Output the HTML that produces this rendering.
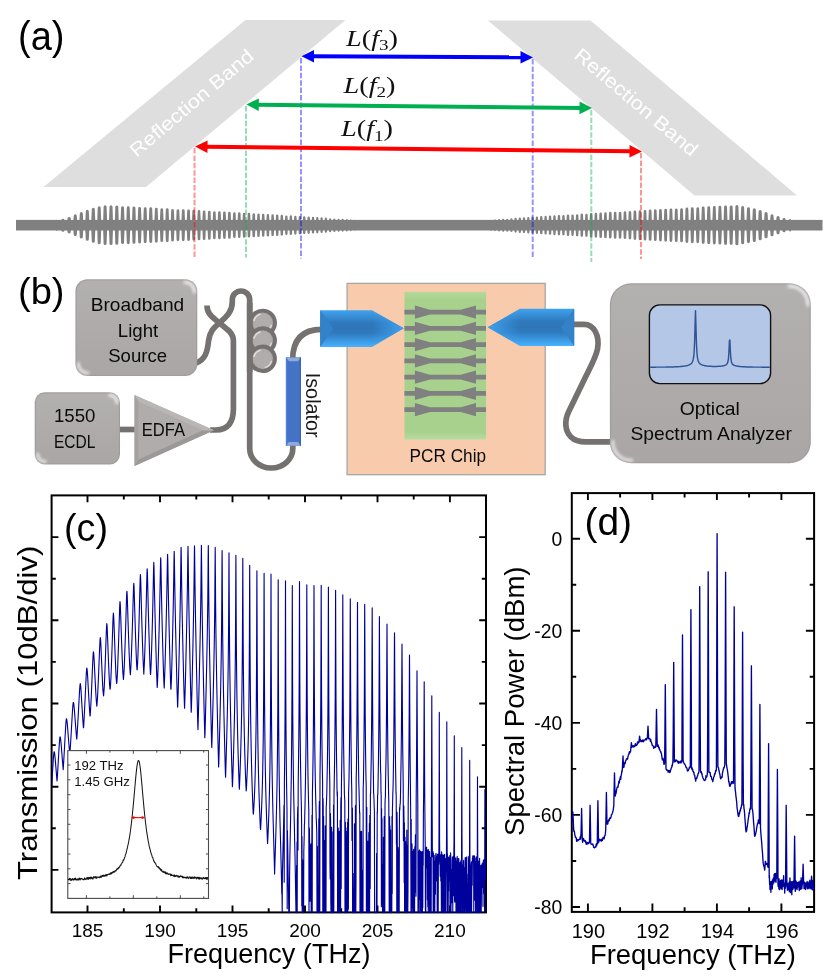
<!DOCTYPE html>
<html lang="en"><head><meta charset="utf-8"><title>Figure</title>
<style>
html,body{margin:0;padding:0;background:#fff;}
body{width:830px;height:977px;overflow:hidden;}
svg{display:block;font-family:"Liberation Sans","DejaVu Sans",sans-serif;}
</style></head><body>
<svg width="830" height="977" viewBox="0 0 830 977">
<rect width="830" height="977" fill="#ffffff"/>
<g id="panelA">
<polygon points="245.5,20 345.5,20 146,187 43.5,187" fill="#dedede"/>
<polygon points="488,20.5 590.5,20.5 797,195.5 694.5,195.5" fill="#dedede"/>
<text transform="translate(195.7,108) rotate(-40.1)" x="0" y="0" text-anchor="middle" font-size="19.2" fill="#ffffff" textLength="155" lengthAdjust="spacingAndGlyphs">Reflection Band</text>
<text transform="translate(632,107.1) rotate(40.3)" x="0" y="0" text-anchor="middle" font-size="19.2" fill="#ffffff" textLength="155" lengthAdjust="spacingAndGlyphs">Reflection Band</text>
<rect x="16" y="219.9" width="806.5" height="10.6" fill="#808080"/>
<path d="M54.5 225.2L56.3 219.9A0.4 0.4 0 0 1 57.2 219.9L59 225.2L57.2 230.5A0.4 0.4 0 0 1 56.3 230.5ZM60.7 225.2L61.4 219.9A1.6 1.6 0 0 1 64.5 219.9L65.2 225.2L64.5 230.5A1.6 1.6 0 0 1 61.4 230.5ZM66.9 225.2L67.6 218.1A1.6 1.6 0 0 1 70.7 218.1L71.4 225.2L70.7 232.3A1.6 1.6 0 0 1 67.6 232.3ZM73 225.2L73.7 215.9A1.5 1.5 0 0 1 76.8 215.9L77.5 225.2L76.8 234.5A1.5 1.5 0 0 1 73.7 234.5ZM79.1 225.2L79.8 213.5A1.5 1.5 0 0 1 82.8 213.5L83.5 225.2L82.8 236.9A1.5 1.5 0 0 1 79.8 236.9ZM85.1 225.2L85.8 211.2A1.5 1.5 0 0 1 88.8 211.2L89.5 225.2L88.8 239.2A1.5 1.5 0 0 1 85.8 239.2ZM91.1 225.2L91.8 209.2A1.5 1.5 0 0 1 94.8 209.2L95.5 225.2L94.8 241.2A1.5 1.5 0 0 1 91.8 241.2ZM97.1 225.2L97.7 207.7A1.5 1.5 0 0 1 100.7 207.7L101.4 225.2L100.7 242.7A1.5 1.5 0 0 1 97.7 242.7ZM103 225.2L103.6 206.8A1.5 1.5 0 0 1 106.6 206.8L107.3 225.2L106.6 243.6A1.5 1.5 0 0 1 103.6 243.6ZM108.8 225.2L109.5 206.8A1.5 1.5 0 0 1 112.5 206.8L113.1 225.2L112.5 243.6A1.5 1.5 0 0 1 109.5 243.6ZM114.7 225.2L115.3 207.1A1.5 1.5 0 0 1 118.3 207.1L118.9 225.2L118.3 243.3A1.5 1.5 0 0 1 115.3 243.3ZM120.4 225.2L121.1 207.4A1.5 1.5 0 0 1 124 207.4L124.7 225.2L124 243A1.5 1.5 0 0 1 121.1 243ZM126.2 225.2L126.8 207.7A1.4 1.4 0 0 1 129.7 207.7L130.4 225.2L129.7 242.7A1.4 1.4 0 0 1 126.8 242.7ZM131.9 225.2L132.5 208A1.4 1.4 0 0 1 135.4 208L136 225.2L135.4 242.4A1.4 1.4 0 0 1 132.5 242.4ZM137.5 225.2L138.2 208.3A1.4 1.4 0 0 1 141 208.3L141.7 225.2L141 242.1A1.4 1.4 0 0 1 138.2 242.1ZM143.1 225.2L143.8 208.6A1.4 1.4 0 0 1 146.6 208.6L147.3 225.2L146.6 241.8A1.4 1.4 0 0 1 143.8 241.8ZM148.7 225.2L149.3 208.8A1.4 1.4 0 0 1 152.2 208.8L152.8 225.2L152.2 241.6A1.4 1.4 0 0 1 149.3 241.6ZM154.2 225.2L154.9 209.1A1.4 1.4 0 0 1 157.7 209.1L158.3 225.2L157.7 241.3A1.4 1.4 0 0 1 154.9 241.3ZM159.7 225.2L160.4 209.4A1.4 1.4 0 0 1 163.1 209.4L163.8 225.2L163.1 241A1.4 1.4 0 0 1 160.4 241ZM165.2 225.2L165.8 209.7A1.4 1.4 0 0 1 168.6 209.7L169.2 225.2L168.6 240.7A1.4 1.4 0 0 1 165.8 240.7ZM170.6 225.2L171.2 210A1.4 1.4 0 0 1 173.9 210L174.6 225.2L173.9 240.4A1.4 1.4 0 0 1 171.2 240.4ZM176 225.2L176.6 210.3A1.4 1.4 0 0 1 179.3 210.3L179.9 225.2L179.3 240.1A1.4 1.4 0 0 1 176.6 240.1ZM181.3 225.2L181.9 210.6A1.3 1.3 0 0 1 184.6 210.6L185.2 225.2L184.6 239.8A1.3 1.3 0 0 1 181.9 239.8ZM186.6 225.2L187.2 210.8A1.3 1.3 0 0 1 189.9 210.8L190.5 225.2L189.9 239.6A1.3 1.3 0 0 1 187.2 239.6ZM191.8 225.2L192.4 211.1A1.3 1.3 0 0 1 195.1 211.1L195.7 225.2L195.1 239.3A1.3 1.3 0 0 1 192.4 239.3ZM197.1 225.2L197.7 211.4A1.3 1.3 0 0 1 200.3 211.4L200.9 225.2L200.3 239A1.3 1.3 0 0 1 197.7 239ZM202.2 225.2L202.8 211.7A1.3 1.3 0 0 1 205.4 211.7L206 225.2L205.4 238.7A1.3 1.3 0 0 1 202.8 238.7ZM207.4 225.2L208 212A1.3 1.3 0 0 1 210.6 212L211.1 225.2L210.6 238.4A1.3 1.3 0 0 1 208 238.4ZM212.5 225.2L213.1 212.2A1.3 1.3 0 0 1 215.6 212.2L216.2 225.2L215.6 238.2A1.3 1.3 0 0 1 213.1 238.2ZM217.5 225.2L218.1 212.5A1.3 1.3 0 0 1 220.7 212.5L221.3 225.2L220.7 237.9A1.3 1.3 0 0 1 218.1 237.9ZM222.6 225.2L223.1 212.8A1.3 1.3 0 0 1 225.7 212.8L226.3 225.2L225.7 237.6A1.3 1.3 0 0 1 223.1 237.6ZM227.6 225.2L228.1 213A1.3 1.3 0 0 1 230.7 213L231.2 225.2L230.7 237.4A1.3 1.3 0 0 1 228.1 237.4ZM232.5 225.2L233.1 213.3A1.3 1.3 0 0 1 235.6 213.3L236.1 225.2L235.6 237.1A1.3 1.3 0 0 1 233.1 237.1ZM237.4 225.2L238 213.6A1.2 1.2 0 0 1 240.5 213.6L241 225.2L240.5 236.8A1.2 1.2 0 0 1 238 236.8ZM242.3 225.2L242.9 213.9A1.2 1.2 0 0 1 245.3 213.9L245.9 225.2L245.3 236.5A1.2 1.2 0 0 1 242.9 236.5ZM247.2 225.2L247.7 214.1A1.2 1.2 0 0 1 250.2 214.1L250.7 225.2L250.2 236.3A1.2 1.2 0 0 1 247.7 236.3ZM252 225.2L252.5 214.4A1.2 1.2 0 0 1 255 214.4L255.5 225.2L255 236A1.2 1.2 0 0 1 252.5 236ZM256.8 225.2L257.3 214.7A1.2 1.2 0 0 1 259.7 214.7L260.3 225.2L259.7 235.7A1.2 1.2 0 0 1 257.3 235.7ZM261.5 225.2L262 214.9A1.2 1.2 0 0 1 264.4 214.9L265 225.2L264.4 235.5A1.2 1.2 0 0 1 262 235.5ZM266.2 225.2L266.7 215.2A1.2 1.2 0 0 1 269.1 215.2L269.6 225.2L269.1 235.2A1.2 1.2 0 0 1 266.7 235.2ZM270.9 225.2L271.4 215.5A1.2 1.2 0 0 1 273.8 215.5L274.3 225.2L273.8 234.9A1.2 1.2 0 0 1 271.4 234.9ZM275.5 225.2L276 215.7A1.2 1.2 0 0 1 278.4 215.7L278.9 225.2L278.4 234.7A1.2 1.2 0 0 1 276 234.7ZM280.1 225.2L280.6 216A1.2 1.2 0 0 1 283 216L283.5 225.2L283 234.4A1.2 1.2 0 0 1 280.6 234.4ZM284.7 225.2L285.2 216.3A1.2 1.2 0 0 1 287.5 216.3L288 225.2L287.5 234.1A1.2 1.2 0 0 1 285.2 234.1ZM289.2 225.2L289.7 216.5A1.1 1.1 0 0 1 292 216.5L292.5 225.2L292 233.9A1.1 1.1 0 0 1 289.7 233.9ZM293.7 225.2L294.2 216.8A1.1 1.1 0 0 1 296.5 216.8L297 225.2L296.5 233.6A1.1 1.1 0 0 1 294.2 233.6ZM298.2 225.2L298.7 217.1A1.1 1.1 0 0 1 301 217.1L301.5 225.2L301 233.3A1.1 1.1 0 0 1 298.7 233.3ZM302.6 225.2L303.1 217.3A1.1 1.1 0 0 1 305.4 217.3L305.9 225.2L305.4 233.1A1.1 1.1 0 0 1 303.1 233.1ZM307 225.2L307.5 217.6A1.1 1.1 0 0 1 309.8 217.6L310.3 225.2L309.8 232.8A1.1 1.1 0 0 1 307.5 232.8ZM311.4 225.2L311.9 217.9A1.1 1.1 0 0 1 314.1 217.9L314.6 225.2L314.1 232.5A1.1 1.1 0 0 1 311.9 232.5ZM315.7 225.2L316.2 218.1A1.1 1.1 0 0 1 318.4 218.1L318.9 225.2L318.4 232.3A1.1 1.1 0 0 1 316.2 232.3ZM320.1 225.2L320.5 218.4A1.1 1.1 0 0 1 322.7 218.4L323.2 225.2L322.7 232A1.1 1.1 0 0 1 320.5 232ZM324.3 225.2L324.8 218.7A1.1 1.1 0 0 1 327 218.7L327.5 225.2L327 231.7A1.1 1.1 0 0 1 324.8 231.7ZM328.6 225.2L329.1 218.9A1.1 1.1 0 0 1 331.2 218.9L331.7 225.2L331.2 231.5A1.1 1.1 0 0 1 329.1 231.5ZM332.8 225.2L333.3 219.2A1.1 1.1 0 0 1 335.4 219.2L335.9 225.2L335.4 231.2A1.1 1.1 0 0 1 333.3 231.2ZM337 225.2L337.5 219.5A1.1 1.1 0 0 1 339.6 219.5L340 225.2L339.6 230.9A1.1 1.1 0 0 1 337.5 230.9ZM341.1 225.2L341.6 219.8A1 1 0 0 1 343.7 219.8L344.2 225.2L343.7 230.6A1 1 0 0 1 341.6 230.6ZM345.3 225.2L345.9 219.9A0.9 0.9 0 0 1 347.7 219.9L348.3 225.2L347.7 230.5A0.9 0.9 0 0 1 345.9 230.5ZM349.4 225.2L350.2 219.9A0.6 0.6 0 0 1 351.5 219.9L352.4 225.2L351.5 230.5A0.6 0.6 0 0 1 350.2 230.5ZM353.4 225.2L354.6 219.9A0.3 0.3 0 0 1 355.2 219.9L356.4 225.2L355.2 230.5A0.3 0.3 0 0 1 354.6 230.5Z" fill="#808080"/>
<path d="M489.5 225.2L490.6 219.9A0.4 0.4 0 0 1 491.4 219.9L492.5 225.2L491.4 230.5A0.4 0.4 0 0 1 490.6 230.5ZM493.5 225.2L494.3 219.9A0.7 0.7 0 0 1 495.7 219.9L496.5 225.2L495.7 230.5A0.7 0.7 0 0 1 494.3 230.5ZM497.6 225.2L498.1 219.9A1 1 0 0 1 500.1 219.9L500.6 225.2L500.1 230.5A1 1 0 0 1 498.1 230.5ZM501.6 225.2L502.1 219.7A1 1 0 0 1 504.2 219.7L504.7 225.2L504.2 230.7A1 1 0 0 1 502.1 230.7ZM505.7 225.2L506.2 219.4A1.1 1.1 0 0 1 508.3 219.4L508.8 225.2L508.3 231A1.1 1.1 0 0 1 506.2 231ZM509.9 225.2L510.4 219.1A1.1 1.1 0 0 1 512.5 219.1L513 225.2L512.5 231.3A1.1 1.1 0 0 1 510.4 231.3ZM514 225.2L514.5 218.8A1.1 1.1 0 0 1 516.7 218.8L517.1 225.2L516.7 231.6A1.1 1.1 0 0 1 514.5 231.6ZM518.2 225.2L518.7 218.5A1.1 1.1 0 0 1 520.9 218.5L521.4 225.2L520.9 231.9A1.1 1.1 0 0 1 518.7 231.9ZM522.4 225.2L522.9 218.3A1.1 1.1 0 0 1 525.1 218.3L525.6 225.2L525.1 232.1A1.1 1.1 0 0 1 522.9 232.1ZM526.7 225.2L527.2 218A1.1 1.1 0 0 1 529.4 218L529.9 225.2L529.4 232.4A1.1 1.1 0 0 1 527.2 232.4ZM531 225.2L531.5 217.7A1.1 1.1 0 0 1 533.7 217.7L534.2 225.2L533.7 232.7A1.1 1.1 0 0 1 531.5 232.7ZM535.3 225.2L535.8 217.5A1.1 1.1 0 0 1 538 217.5L538.5 225.2L538 232.9A1.1 1.1 0 0 1 535.8 232.9ZM539.6 225.2L540.1 217.2A1.1 1.1 0 0 1 542.4 217.2L542.9 225.2L542.4 233.2A1.1 1.1 0 0 1 540.1 233.2ZM544 225.2L544.5 216.9A1.1 1.1 0 0 1 546.7 216.9L547.3 225.2L546.7 233.5A1.1 1.1 0 0 1 544.5 233.5ZM548.4 225.2L548.9 216.7A1.1 1.1 0 0 1 551.2 216.7L551.7 225.2L551.2 233.7A1.1 1.1 0 0 1 548.9 233.7ZM552.8 225.2L553.3 216.4A1.1 1.1 0 0 1 555.6 216.4L556.1 225.2L555.6 234A1.1 1.1 0 0 1 553.3 234ZM557.3 225.2L557.8 216.1A1.1 1.1 0 0 1 560.1 216.1L560.6 225.2L560.1 234.3A1.1 1.1 0 0 1 557.8 234.3ZM561.8 225.2L562.3 215.9A1.2 1.2 0 0 1 564.6 215.9L565.1 225.2L564.6 234.5A1.2 1.2 0 0 1 562.3 234.5ZM566.3 225.2L566.8 215.6A1.2 1.2 0 0 1 569.2 215.6L569.7 225.2L569.2 234.8A1.2 1.2 0 0 1 566.8 234.8ZM570.9 225.2L571.4 215.3A1.2 1.2 0 0 1 573.7 215.3L574.3 225.2L573.7 235.1A1.2 1.2 0 0 1 571.4 235.1ZM575.4 225.2L576 215A1.2 1.2 0 0 1 578.3 215L578.9 225.2L578.3 235.4A1.2 1.2 0 0 1 576 235.4ZM580.1 225.2L580.6 214.8A1.2 1.2 0 0 1 583 214.8L583.5 225.2L583 235.6A1.2 1.2 0 0 1 580.6 235.6ZM584.7 225.2L585.3 214.5A1.2 1.2 0 0 1 587.6 214.5L588.2 225.2L587.6 235.9A1.2 1.2 0 0 1 585.3 235.9ZM589.4 225.2L589.9 214.2A1.2 1.2 0 0 1 592.4 214.2L592.9 225.2L592.4 236.2A1.2 1.2 0 0 1 589.9 236.2ZM594.1 225.2L594.7 214A1.2 1.2 0 0 1 597.1 214L597.6 225.2L597.1 236.4A1.2 1.2 0 0 1 594.7 236.4ZM598.9 225.2L599.4 213.7A1.2 1.2 0 0 1 601.9 213.7L602.4 225.2L601.9 236.7A1.2 1.2 0 0 1 599.4 236.7ZM603.6 225.2L604.2 213.4A1.2 1.2 0 0 1 606.7 213.4L607.2 225.2L606.7 237A1.2 1.2 0 0 1 604.2 237ZM608.5 225.2L609 213.1A1.2 1.2 0 0 1 611.5 213.1L612.1 225.2L611.5 237.3A1.2 1.2 0 0 1 609 237.3ZM613.3 225.2L613.9 212.9A1.2 1.2 0 0 1 616.4 212.9L616.9 225.2L616.4 237.5A1.2 1.2 0 0 1 613.9 237.5ZM618.2 225.2L618.8 212.6A1.3 1.3 0 0 1 621.3 212.6L621.9 225.2L621.3 237.8A1.3 1.3 0 0 1 618.8 237.8ZM623.1 225.2L623.7 212.3A1.3 1.3 0 0 1 626.2 212.3L626.8 225.2L626.2 238.1A1.3 1.3 0 0 1 623.7 238.1ZM628.1 225.2L628.7 212A1.3 1.3 0 0 1 631.2 212L631.8 225.2L631.2 238.4A1.3 1.3 0 0 1 628.7 238.4ZM633.1 225.2L633.6 211.8A1.3 1.3 0 0 1 636.2 211.8L636.8 225.2L636.2 238.6A1.3 1.3 0 0 1 633.6 238.6ZM638.1 225.2L638.7 211.5A1.3 1.3 0 0 1 641.3 211.5L641.8 225.2L641.3 238.9A1.3 1.3 0 0 1 638.7 238.9ZM643.1 225.2L643.7 211.2A1.3 1.3 0 0 1 646.3 211.2L646.9 225.2L646.3 239.2A1.3 1.3 0 0 1 643.7 239.2ZM648.2 225.2L648.8 210.9A1.3 1.3 0 0 1 651.5 210.9L652 225.2L651.5 239.5A1.3 1.3 0 0 1 648.8 239.5ZM653.4 225.2L654 210.6A1.3 1.3 0 0 1 656.6 210.6L657.2 225.2L656.6 239.8A1.3 1.3 0 0 1 654 239.8ZM658.5 225.2L659.1 210.3A1.3 1.3 0 0 1 661.8 210.3L662.4 225.2L661.8 240.1A1.3 1.3 0 0 1 659.1 240.1ZM663.7 225.2L664.3 210.1A1.3 1.3 0 0 1 667 210.1L667.6 225.2L667 240.3A1.3 1.3 0 0 1 664.3 240.3ZM669 225.2L669.6 209.8A1.3 1.3 0 0 1 672.3 209.8L672.9 225.2L672.3 240.6A1.3 1.3 0 0 1 669.6 240.6ZM674.3 225.2L674.9 209.5A1.4 1.4 0 0 1 677.6 209.5L678.2 225.2L677.6 240.9A1.4 1.4 0 0 1 674.9 240.9ZM679.6 225.2L680.2 209.2A1.4 1.4 0 0 1 682.9 209.2L683.5 225.2L682.9 241.2A1.4 1.4 0 0 1 680.2 241.2ZM684.9 225.2L685.5 208.9A1.4 1.4 0 0 1 688.3 208.9L688.9 225.2L688.3 241.5A1.4 1.4 0 0 1 685.5 241.5ZM690.3 225.2L690.9 208.6A1.4 1.4 0 0 1 693.7 208.6L694.3 225.2L693.7 241.8A1.4 1.4 0 0 1 690.9 241.8ZM695.7 225.2L696.4 208.3A1.4 1.4 0 0 1 699.1 208.3L699.8 225.2L699.1 242.1A1.4 1.4 0 0 1 696.4 242.1ZM701.2 225.2L701.8 208A1.4 1.4 0 0 1 704.6 208L705.3 225.2L704.6 242.4A1.4 1.4 0 0 1 701.8 242.4ZM706.7 225.2L707.3 207.7A1.4 1.4 0 0 1 710.2 207.7L710.8 225.2L710.2 242.7A1.4 1.4 0 0 1 707.3 242.7ZM712.2 225.2L712.9 207.4A1.4 1.4 0 0 1 715.7 207.4L716.4 225.2L715.7 243A1.4 1.4 0 0 1 712.9 243ZM717.8 225.2L718.5 207.2A1.4 1.4 0 0 1 721.3 207.2L722 225.2L721.3 243.2A1.4 1.4 0 0 1 718.5 243.2ZM723.4 225.2L724.1 206.9A1.4 1.4 0 0 1 727 206.9L727.6 225.2L727 243.5A1.4 1.4 0 0 1 724.1 243.5ZM729.1 225.2L729.7 206.6A1.5 1.5 0 0 1 732.6 206.6L733.3 225.2L732.6 243.8A1.5 1.5 0 0 1 729.7 243.8ZM734.8 225.2L735.4 206.6A1.5 1.5 0 0 1 738.4 206.6L739 225.2L738.4 243.8A1.5 1.5 0 0 1 735.4 243.8ZM740.5 225.2L741.2 207.2A1.5 1.5 0 0 1 744.1 207.2L744.8 225.2L744.1 243.2A1.5 1.5 0 0 1 741.2 243.2ZM746.3 225.2L747 208.3A1.5 1.5 0 0 1 749.9 208.3L750.6 225.2L749.9 242.1A1.5 1.5 0 0 1 747 242.1ZM752.1 225.2L752.8 209.8A1.5 1.5 0 0 1 755.8 209.8L756.4 225.2L755.8 240.6A1.5 1.5 0 0 1 752.8 240.6ZM758 225.2L758.6 211.6A1.5 1.5 0 0 1 761.7 211.6L762.3 225.2L761.7 238.8A1.5 1.5 0 0 1 758.6 238.8ZM763.9 225.2L764.5 213.6A1.5 1.5 0 0 1 767.6 213.6L768.3 225.2L767.6 236.8A1.5 1.5 0 0 1 764.5 236.8ZM769.8 225.2L770.5 215.7A1.5 1.5 0 0 1 773.5 215.7L774.2 225.2L773.5 234.7A1.5 1.5 0 0 1 770.5 234.7ZM775.8 225.2L776.5 217.6A1.5 1.5 0 0 1 779.6 217.6L780.2 225.2L779.6 232.8A1.5 1.5 0 0 1 776.5 232.8ZM781.8 225.2L782.5 219.3A1.6 1.6 0 0 1 785.6 219.3L786.3 225.2L785.6 231.1A1.6 1.6 0 0 1 782.5 231.1ZM787.9 225.2L789.2 219.9A0.9 0.9 0 0 1 791.1 219.9L792.4 225.2L791.1 230.5A0.9 0.9 0 0 1 789.2 230.5Z" fill="#808080"/>
<path d="M194.5 148V257.5" stroke="#ff0000" stroke-width="2" stroke-dasharray="5.5 1.9" fill="none" stroke-opacity="0.42"/>
<path d="M246 106V257.5" stroke="#00b050" stroke-width="2" stroke-dasharray="5.5 1.9" fill="none" stroke-opacity="0.42"/>
<path d="M301 58V258.5" stroke="#0000ff" stroke-width="2" stroke-dasharray="5.5 1.9" fill="none" stroke-opacity="0.42"/>
<path d="M532.7 59V258.5" stroke="#0000ff" stroke-width="2" stroke-dasharray="5.5 1.9" fill="none" stroke-opacity="0.42"/>
<path d="M591.3 110V262" stroke="#00b050" stroke-width="2" stroke-dasharray="5.5 1.9" fill="none" stroke-opacity="0.42"/>
<path d="M641 153V259" stroke="#ff0000" stroke-width="2" stroke-dasharray="5.5 1.9" fill="none" stroke-opacity="0.42"/>
<path d="M311.5 56.3L523 57.3" stroke="#0000ff" stroke-width="4" fill="none"/><polygon points="301.5,56.2 314,62.6 314,50" fill="#0000ff"/><polygon points="533,57.4 520.5,63.6 520.5,51" fill="#0000ff"/>
<path d="M256.3 104.7L582 107.9" stroke="#00b050" stroke-width="4" fill="none"/><polygon points="246.3,104.6 258.7,111 258.9,98.4" fill="#00b050"/><polygon points="592,108 579.4,114.2 579.6,101.6" fill="#00b050"/>
<path d="M205 146.7L632 151.3" stroke="#ff0000" stroke-width="4" fill="none"/><polygon points="195,146.6 207.4,153 207.6,140.4" fill="#ff0000"/><polygon points="642,151.4 629.4,157.6 629.6,145" fill="#ff0000"/>
<text x="346" y="45.5" font-family="'Liberation Serif','DejaVu Serif',serif" font-size="23" fill="#111" textLength="52" lengthAdjust="spacingAndGlyphs"><tspan font-style="italic">L</tspan>(<tspan font-style="italic">f</tspan><tspan font-size="15.5" dy="4.5">3</tspan><tspan dy="-4.5">)</tspan></text>
<text x="343.5" y="92.5" font-family="'Liberation Serif','DejaVu Serif',serif" font-size="23" fill="#111" textLength="52" lengthAdjust="spacingAndGlyphs"><tspan font-style="italic">L</tspan>(<tspan font-style="italic">f</tspan><tspan font-size="15.5" dy="4.5">2</tspan><tspan dy="-4.5">)</tspan></text>
<text x="341" y="136.2" font-family="'Liberation Serif','DejaVu Serif',serif" font-size="23" fill="#111" textLength="52" lengthAdjust="spacingAndGlyphs"><tspan font-style="italic">L</tspan>(<tspan font-style="italic">f</tspan><tspan font-size="15.5" dy="4.5">1</tspan><tspan dy="-4.5">)</tspan></text>
<text x="18" y="50" font-size="40" fill="#000" textLength="46.5" lengthAdjust="spacingAndGlyphs">(a)</text>
</g>
<g id="panelB">
<defs>
<linearGradient id="gbox" x1="0" y1="0" x2="0" y2="1"><stop offset="0" stop-color="#b3b0b0"/><stop offset="0.5" stop-color="#afabab"/><stop offset="1" stop-color="#aaa6a6"/></linearGradient>
<filter id="blur1" x="-50%" y="-50%" width="200%" height="200%"><feGaussianBlur stdDeviation="1.4"/></filter>
<filter id="blur2" x="-20%" y="-20%" width="140%" height="140%"><feGaussianBlur stdDeviation="0.6"/></filter>
<radialGradient id="gcirc" cx="0.5" cy="0.5" r="0.5"><stop offset="0" stop-color="#b1adad"/><stop offset="0.7" stop-color="#b0acac"/><stop offset="1" stop-color="#9d9999"/></radialGradient>
<linearGradient id="gtapL" x1="0" y1="0" x2="0" y2="1"><stop offset="0" stop-color="#3fa3ef"/><stop offset="0.34" stop-color="#2f79bc"/><stop offset="0.5" stop-color="#2e75b6"/><stop offset="0.64" stop-color="#2f7bc0"/><stop offset="1" stop-color="#47b2ff"/></linearGradient>
<linearGradient id="gtipL" x1="0" y1="0" x2="1" y2="0"><stop offset="0" stop-color="#41a8f8" stop-opacity="0"/><stop offset="1" stop-color="#41a8f8" stop-opacity="0.85"/></linearGradient>
<linearGradient id="gtipR" x1="1" y1="0" x2="0" y2="0"><stop offset="0" stop-color="#41a8f8" stop-opacity="0"/><stop offset="1" stop-color="#41a8f8" stop-opacity="0.85"/></linearGradient>
<linearGradient id="gtri" x1="0" y1="0" x2="1" y2="0"><stop offset="0" stop-color="#9c9898"/><stop offset="0.12" stop-color="#b1adad"/><stop offset="1" stop-color="#b1adad"/></linearGradient>
<linearGradient id="ggreen" x1="0" y1="0" x2="0" y2="1"><stop offset="0" stop-color="#b4d99c"/><stop offset="0.05" stop-color="#a9d18e"/><stop offset="0.95" stop-color="#a9d18e"/><stop offset="1" stop-color="#b9dca3"/></linearGradient>
</defs>
<rect x="347.1" y="283.4" width="198.1" height="191.3" fill="#f8cbad" stroke="#a8a6a6" stroke-width="1.3"/>
<rect x="404.5" y="291.9" width="81.6" height="147.7" fill="url(#ggreen)"/>
<path d="M404.4 309.7H414.9V305.4L430 309.7H460.7L476 305.4V309.7H486V314.5H476V318.8L460.7 314.5H430L414.9 318.8V314.5H404.4Z" fill="#808080"/>
<path d="M404.4 326H414.9V321.7L430 326H460.7L476 321.7V326H486V330.8H476V335.1L460.7 330.8H430L414.9 335.1V330.8H404.4Z" fill="#808080"/>
<path d="M404.4 342.2H414.9V337.9L430 342.2H460.7L476 337.9V342.2H486V347H476V351.3L460.7 347H430L414.9 351.3V347H404.4Z" fill="#808080"/>
<path d="M404.4 358.5H414.9V354.2L430 358.5H460.7L476 354.2V358.5H486V363.2H476V367.6L460.7 363.2H430L414.9 367.6V363.2H404.4Z" fill="#808080"/>
<path d="M404.4 374.7H414.9V370.4L430 374.7H460.7L476 370.4V374.7H486V379.5H476V383.8L460.7 379.5H430L414.9 383.8V379.5H404.4Z" fill="#808080"/>
<path d="M404.4 391H414.9V386.7L430 391H460.7L476 386.7V391H486V395.8H476V400.1L460.7 395.8H430L414.9 400.1V395.8H404.4Z" fill="#808080"/>
<path d="M404.4 407.2H414.9V402.9L430 407.2H460.7L476 402.9V407.2H486V412H476V416.3L460.7 412H430L414.9 416.3V412H404.4Z" fill="#808080"/>
<text x="447.8" y="462.3" font-size="18.4" text-anchor="middle" fill="#0a0a0a" textLength="76.5" lengthAdjust="spacingAndGlyphs">PCR Chip</text>
<path d="M119 429.5H136" fill="none" stroke="#767171" stroke-width="5.7" stroke-linejoin="round"/>
<path d="M210 430H216C228 430 233.4 422 233.4 409V341C233.4 332 226 329 219.4 323C212 316.5 207 314 207 305.5" fill="none" stroke="#767171" stroke-width="5.7" stroke-linejoin="round"/>
<path d="M196 363C205 360 207.5 352 208.5 341C210 330 215 327 219.4 323C226 317 232.3 312 232.3 302V299.7A8.7 8.7 0 0 1 249.7 299.7V448.5A21.55 19.5 0 0 0 292.8 448.5V444" fill="none" stroke="#767171" stroke-width="5.7" stroke-linejoin="round"/>
<path d="M292.6 360C292.6 340 302 329.3 322 329.3" fill="none" stroke="#767171" stroke-width="5.7" stroke-linejoin="round"/>
<path d="M572 324.3H584C594 324.3 600 336 597.5 349C596 357 591 366 586 376L569 411C564 421 565 431 571 437C575 441 580 441.9 586 441.9H611" fill="none" stroke="#767171" stroke-width="5.7" stroke-linejoin="round"/>
<circle cx="262.7" cy="322.9" r="12.3" fill="url(#gcirc)" stroke="#767171" stroke-width="3.9"/>
<path d="M254.1 320.3A9 9 0 0 1 260.1 314.3" fill="none" stroke="#fff" stroke-width="1.6" stroke-linecap="round" opacity="0.6" filter="url(#blur2)"/>
<path d="M271.3 325.5A9 9 0 0 1 265.3 331.5" fill="none" stroke="#fff" stroke-width="1.6" stroke-linecap="round" opacity="0.5" filter="url(#blur2)"/>
<circle cx="262.7" cy="340.6" r="12.3" fill="url(#gcirc)" stroke="#767171" stroke-width="3.9"/>
<path d="M254.1 338A9 9 0 0 1 260.1 332" fill="none" stroke="#fff" stroke-width="1.6" stroke-linecap="round" opacity="0.6" filter="url(#blur2)"/>
<path d="M271.3 343.2A9 9 0 0 1 265.3 349.2" fill="none" stroke="#fff" stroke-width="1.6" stroke-linecap="round" opacity="0.5" filter="url(#blur2)"/>
<circle cx="262.7" cy="358.8" r="12.3" fill="url(#gcirc)" stroke="#767171" stroke-width="3.9"/>
<path d="M254.1 356.2A9 9 0 0 1 260.1 350.2" fill="none" stroke="#fff" stroke-width="1.6" stroke-linecap="round" opacity="0.6" filter="url(#blur2)"/>
<path d="M271.3 361.4A9 9 0 0 1 265.3 367.4" fill="none" stroke="#fff" stroke-width="1.6" stroke-linecap="round" opacity="0.5" filter="url(#blur2)"/>
<path d="M249.7 303V372" fill="none" stroke="#767171" stroke-width="5.7" stroke-linejoin="round"/>
<rect x="75.4" y="279.3" width="121.9" height="96.7" rx="12" fill="#a19d9d"/><rect x="76.6" y="280.5" width="119.5" height="94.3" rx="11" fill="url(#gbox)"/><path d="M184.9 282.3A9 9 0 0 1 194.3 291.8" fill="none" stroke="#fff" stroke-width="3" stroke-linecap="round" opacity="0.8" filter="url(#blur1)"/><path d="M87.9 373A9 9 0 0 1 78.4 363.6" fill="none" stroke="#fff" stroke-width="3" stroke-linecap="round" opacity="0.72" filter="url(#blur1)"/>
<text x="137.5" y="310.5" font-size="18.2" text-anchor="middle" fill="#0a0a0a" textLength="93.5" lengthAdjust="spacingAndGlyphs">Broadband</text>
<text x="138" y="336.5" font-size="18.2" text-anchor="middle" fill="#0a0a0a" textLength="40.5" lengthAdjust="spacingAndGlyphs">Light</text>
<text x="137.6" y="362.1" font-size="18.2" text-anchor="middle" fill="#0a0a0a" textLength="58.8" lengthAdjust="spacingAndGlyphs">Source</text>
<rect x="34.7" y="392.2" width="85.3" height="72.3" rx="10" fill="#a19d9d"/><rect x="35.9" y="393.4" width="82.9" height="69.9" rx="9" fill="url(#gbox)"/><path d="M109.7 395.2A7 7 0 0 1 117 402.6" fill="none" stroke="#fff" stroke-width="3" stroke-linecap="round" opacity="0.8" filter="url(#blur1)"/><path d="M45.1 461.5A7 7 0 0 1 37.7 454.1" fill="none" stroke="#fff" stroke-width="3" stroke-linecap="round" opacity="0.72" filter="url(#blur1)"/>
<text x="74.7" y="422.1" font-size="18.2" text-anchor="middle" fill="#0a0a0a" textLength="41.4" lengthAdjust="spacingAndGlyphs">1550</text>
<text x="74.7" y="448.3" font-size="18.2" text-anchor="middle" fill="#0a0a0a" textLength="41.4" lengthAdjust="spacingAndGlyphs">ECDL</text>
<polygon points="134.5,395 134.5,466 214,430.2" fill="#b0acac"/>
<polygon points="134.5,466 214,430.2 203,430.2 138.5,459.5" fill="#9c9898"/>
<polygon points="134.5,395 214,430.2 203,430.2 138.5,401.5" fill="#b9b6b6"/>
<polygon points="134.5,395 138.5,401.5 138.5,459.5 134.5,466" fill="#a5a1a1"/>
<text x="163.4" y="436.3" font-size="18.2" text-anchor="middle" fill="#0a0a0a" textLength="43.3" lengthAdjust="spacingAndGlyphs">EDFA</text>
<rect x="285.9" y="357.4" width="15.1" height="88.3" fill="#4472c4"/>
<polygon points="285.9,357.4 301,357.4 298,361.2 288.9,361.2" fill="#8eaadb"/>
<polygon points="285.9,445.7 301,445.7 298,441.9 288.9,441.9" fill="#8eaadb"/>
<rect x="285.9" y="357.4" width="1.3" height="88.3" fill="#4f81d8"/>
<rect x="299.7" y="357.4" width="1.3" height="88.3" fill="#3c65b0"/>
<text transform="translate(306.3,405.2) rotate(90)" x="0" y="0" font-size="19.5" text-anchor="middle" fill="#1a1a1a" textLength="65" lengthAdjust="spacingAndGlyphs">Isolator</text>
<path d="M320.2 310.2H372L403.7 328.3L372 347H320.2Z" fill="url(#gtapL)"/>
<path d="M372 310.2L403.7 328.3L372 347Z" fill="url(#gtipL)"/>
<path d="M320.2 310.2L333.5 328.5L320.2 347Z" fill="#3381c8"/>
<path d="M574.2 308.7H519.9L487.8 327.3L519.9 345.9H574.2Z" fill="url(#gtapL)"/>
<path d="M519.9 308.7L487.8 327.3L519.9 345.9Z" fill="url(#gtipR)"/>
<path d="M574.2 308.7L561 327.3L574.2 345.9Z" fill="#3381c8"/>
<rect x="609.9" y="283.3" width="200.9" height="179.9" rx="21" fill="#a19d9d"/><rect x="611.1" y="284.5" width="198.5" height="177.5" rx="20" fill="url(#gbox)"/><path d="M788.9 286.3A18 18 0 0 1 807.8 305.2" fill="none" stroke="#fff" stroke-width="3" stroke-linecap="round" opacity="0.8" filter="url(#blur1)"/><path d="M631.8 460.2A18 18 0 0 1 612.9 441.3" fill="none" stroke="#fff" stroke-width="3" stroke-linecap="round" opacity="0.72" filter="url(#blur1)"/>
<rect x="649.4" y="304.9" width="121.2" height="78.7" rx="10.5" fill="#b4c7e7" stroke="#111" stroke-width="1.4"/>
<path d="M650.2 367.2L650.7 367.2L651.2 367.2L651.7 367.2L652.2 367.2L652.7 367.2L653.2 367.2L653.7 367.2L654.2 367.2L654.7 367.2L655.2 367.2L655.7 367.2L656.2 367.1L656.7 367.1L657.2 367.1L657.7 367.1L658.2 367.1L658.7 367.1L659.2 367.1L659.7 367.1L660.2 367.1L660.7 367.1L661.2 367.1L661.7 367.1L662.2 367.1L662.7 367.1L663.2 367.1L663.7 367.1L664.2 367.1L664.7 367.1L665.2 367.1L665.6 367.1L666.1 367L666.6 367L667.1 367L667.6 367L668.1 367L668.6 367L669.1 367L669.6 367L670.1 367L670.6 367L671.1 366.9L671.6 366.9L672.1 366.9L672.6 366.9L673.1 366.9L673.6 366.9L674.1 366.9L674.6 366.8L675.1 366.8L675.6 366.8L676.1 366.8L676.6 366.8L677.1 366.7L677.6 366.7L678.1 366.7L678.6 366.7L679.1 366.6L679.6 366.6L680.1 366.5L680.6 366.5L681.1 366.5L681.6 366.4L682.1 366.4L682.6 366.3L683.1 366.3L683.6 366.2L684.1 366.1L684.6 366.1L685.1 366L685.6 365.9L686.1 365.8L686.6 365.7L687.1 365.6L687.6 365.5L688.1 365.3L688.6 365.1L689.1 364.9L689.6 364.7L690.1 364.5L690.6 364.1L691.1 363.7L691.6 363.2L692.1 362.5L692.6 361.5L693.1 359.9L693.6 357.2L694.1 352.3L694.6 342.4L695.1 323.6L695.5 310.7L696 327.9L696.5 344.9L697 353.5L697.5 357.9L698 360.2L698.5 361.7L699 362.6L699.5 363.3L700 363.8L700.5 364.2L701 364.5L701.5 364.7L702 364.9L702.5 365.1L703 365.3L703.5 365.4L704 365.5L704.5 365.6L705 365.7L705.5 365.8L706 365.9L706.5 365.9L707 366L707.5 366.1L708 366.1L708.5 366.2L709 366.2L709.5 366.2L710 366.3L710.5 366.3L711 366.3L711.5 366.4L712 366.4L712.5 366.4L713 366.4L713.5 366.4L714 366.4L714.5 366.4L715 366.4L715.5 366.4L716 366.4L716.5 366.4L717 366.4L717.5 366.4L718 366.3L718.5 366.3L719 366.3L719.5 366.3L720 366.2L720.5 366.2L721 366.1L721.5 366.1L722 366L722.5 365.9L723 365.9L723.5 365.8L724 365.7L724.5 365.5L725 365.4L725.4 365.2L725.9 364.9L726.4 364.5L726.9 364L727.4 363.2L727.9 361.8L728.4 358.9L728.9 352.6L729.4 340.7L729.9 340L730.4 352L730.9 358.7L731.4 361.7L731.9 363.2L732.4 364L732.9 364.6L733.4 365L733.9 365.2L734.4 365.4L734.9 365.6L735.4 365.8L735.9 365.9L736.4 366L736.9 366.1L737.4 366.2L737.9 366.2L738.4 366.3L738.9 366.4L739.4 366.4L739.9 366.5L740.4 366.5L740.9 366.6L741.4 366.6L741.9 366.7L742.4 366.7L742.9 366.7L743.4 366.8L743.9 366.8L744.4 366.8L744.9 366.8L745.4 366.9L745.9 366.9L746.4 366.9L746.9 366.9L747.4 366.9L747.9 366.9L748.4 367L748.9 367L749.4 367L749.9 367L750.4 367L750.9 367L751.4 367L751.9 367L752.4 367L752.9 367.1L753.4 367.1L753.9 367.1L754.4 367.1L754.8 367.1L755.3 367.1L755.8 367.1L756.3 367.1L756.8 367.1L757.3 367.1L757.8 367.1L758.3 367.1L758.8 367.1L759.3 367.1L759.8 367.1L760.3 367.1L760.8 367.1L761.3 367.1L761.8 367.2L762.3 367.2L762.8 367.2L763.3 367.2L763.8 367.2L764.3 367.2L764.8 367.2L765.3 367.2L765.8 367.2L766.3 367.2L766.8 367.2L767.3 367.2L767.8 367.2L768.3 367.2L768.8 367.2L769.3 367.2L769.8 367.2" fill="none" stroke="#2f5597" stroke-width="1.45" stroke-linejoin="round"/>
<text x="709.8" y="414.5" font-size="18.6" text-anchor="middle" fill="#0a0a0a" textLength="60" lengthAdjust="spacingAndGlyphs">Optical</text>
<text x="711.2" y="440.3" font-size="18.6" text-anchor="middle" fill="#0a0a0a" textLength="161.5" lengthAdjust="spacingAndGlyphs">Spectrum Analyzer</text>
<text x="18" y="304.2" font-size="37.5" fill="#000" textLength="46.5" lengthAdjust="spacingAndGlyphs">(b)</text>
</g>
<g id="panelC">
<clipPath id="clipC"><rect x="51.6" y="495.4" width="434.4" height="418"/></clipPath>
<rect x="51.6" y="495.4" width="434.4" height="417" fill="none" stroke="#000" stroke-width="2"/>
<path d="M87.5 912.4v-6.8M87.5 495.4v6.8M123.8 912.4v-4.2M123.8 495.4v4.2M160 912.4v-6.8M160 495.4v6.8M196.3 912.4v-4.2M196.3 495.4v4.2M232.5 912.4v-6.8M232.5 495.4v6.8M268.7 912.4v-4.2M268.7 495.4v4.2M305 912.4v-6.8M305 495.4v6.8M341.2 912.4v-4.2M341.2 495.4v4.2M377.5 912.4v-6.8M377.5 495.4v6.8M413.7 912.4v-4.2M413.7 495.4v4.2M449.9 912.4v-6.8M449.9 495.4v6.8M51.6 537.1h6.8M486 537.1h-6.8M51.6 578.7h4.2M486 578.7h-4.2M51.6 620.3h6.8M486 620.3h-6.8M51.6 661.9h4.2M486 661.9h-4.2M51.6 703.5h6.8M486 703.5h-6.8M51.6 745.1h4.2M486 745.1h-4.2M51.6 786.7h6.8M486 786.7h-6.8M51.6 828.3h4.2M486 828.3h-4.2M51.6 869.9h6.8M486 869.9h-6.8" stroke="#000" stroke-width="1.9" fill="none"/>
<path d="M51.6 786.3L51.8 783.3L52 780.2L52.2 777L52.4 773.8L52.6 770.6L52.8 767.4L53 764.2L53.2 761.2L53.4 758.4L53.6 755.9L53.8 753.8L54 752.2L54.1 751.7L54.2 751.7L54.4 752.2L54.6 753.2L54.8 754.8L55 756.7L55.2 758.9L55.4 761.3L55.6 763.7L55.8 766.2L56 768.8L56.2 771.3L56.4 773.7L56.6 776.2L56.8 778.6L57 780.9L57.2 779.2L57.4 776L57.6 772.7L57.8 769.4L58 766L58.2 762.6L58.4 759.1L58.6 755.6L58.8 752.1L59 748.7L59.2 745.5L59.4 742.6L59.6 740.1L59.8 738.1L60 736.9L60.2 737L60.4 737.7L60.6 739L60.8 740.7L61 742.7L61.2 745L61.4 747.4L61.6 749.9L61.8 752.4L62 755L62.2 757.5L62.4 760L62.6 762.5L62.8 764.9L63 767.3L63.2 769.6L63.4 766.5L63.6 763.2L63.8 759.9L64 756.5L64.2 753L64.4 749.4L64.6 745.8L64.8 742.2L65 738.5L65.2 734.8L65.4 731.3L65.6 727.9L65.8 724.8L66 722.1L66.2 720L66.4 718.7L66.6 718.9L66.8 719.8L67 721.2L67.2 723.1L67.4 725.3L67.6 727.6L67.8 730.1L68 732.7L68.2 735.2L68.4 737.8L68.6 740.3L68.8 742.8L69 745.2L69.2 747.6L69.4 749.9L69.6 752.1L69.8 754.2L70 752.5L70.2 749.4L70.4 746.3L70.6 743L70.8 739.7L71 736.4L71.2 733L71.4 729.5L71.6 726L71.8 722.5L72 719L72.2 715.6L72.4 712.3L72.6 709.3L72.8 706.6L73 704.4L73.2 702.9L73.3 702.4L73.4 702.4L73.6 702.9L73.8 704.1L74 705.8L74.2 707.9L74.4 710.2L74.6 712.8L74.8 715.4L75 718L75.2 720.6L75.4 723.2L75.6 725.8L75.8 728.3L76 730.8L76.2 733.3L76.4 735.7L76.6 738.1L76.8 739.1L77 736.1L77.2 733L77.4 729.7L77.6 726.4L77.8 723L78 719.5L78.2 715.9L78.4 712.2L78.6 708.4L78.8 704.6L79 700.8L79.2 697.1L79.4 693.4L79.6 690.1L79.8 687.2L80 685L80.2 683.6L80.4 684L80.6 685.5L80.8 687.6L81 690.3L81.2 693.3L81.4 696.5L81.6 699.9L81.8 703.2L82 706.5L82.2 709.8L82.4 713L82.6 716.1L82.8 719.2L83 722.1L83.2 725L83.4 727.8L83.6 727.5L83.8 724.1L84 720.5L84.2 716.8L84.4 713L84.6 709.1L84.8 705L85 700.9L85.2 696.7L85.4 692.3L85.6 688L85.8 683.7L86 679.5L86.2 675.5L86.4 672.1L86.6 669.5L86.8 668L87 668.6L87.2 670.3L87.4 672.8L87.6 675.9L87.8 679.4L88 683L88.2 686.7L88.4 690.4L88.6 694.1L88.8 697.7L89 701.1L89.2 704.5L89.4 707.8L89.6 710.7L89.8 713.3L90 715.9L90.2 715.6L90.4 712.4L90.6 709.1L90.8 705.5L91 701.6L91.2 697.5L91.4 693.1L91.6 688.7L91.8 684.1L92 679.4L92.2 674.6L92.4 669.8L92.6 665L92.8 660.5L93 656.5L93.2 653.4L93.4 651.7L93.6 652.5L93.8 654.5L94 657.5L94.2 661.1L94.4 665L94.6 669L94.8 673.1L95 677.2L95.2 681.2L95.4 685.1L95.6 688.9L95.8 692.5L96 696L96.2 699.2L96.4 701.7L96.6 703.8L96.8 706.3L97 704.5L97.2 701.8L97.4 699L97.6 695.6L97.8 691.6L98 687.4L98.2 683L98.4 678.4L98.6 673.7L98.8 668.8L99 663.9L99.2 658.9L99.4 653.9L99.6 649L99.8 644.5L100 640.8L100.2 638.2L100.3 637.6L100.4 637.9L100.6 639.8L100.8 643.1L101 647.3L101.2 651.9L101.4 656.6L101.6 661.4L101.8 666.1L102 670.7L102.2 675.1L102.4 679.5L102.6 683.6L102.8 687.5L103 690.6L103.2 692.8L103.4 694.7L103.6 696L103.8 693.1L104 690.8L104.2 687.7L104.4 683.6L104.6 678.9L104.8 674L105 668.9L105.2 663.6L105.4 658.1L105.6 652.4L105.8 646.6L106 640.7L106.2 635L106.4 629.8L106.6 625.7L106.8 623.5L107 624.9L107.2 628.2L107.4 632.8L107.6 637.9L107.8 643.2L108 648.5L108.2 653.8L108.4 658.9L108.6 663.8L108.8 668.6L109 673.3L109.2 677.7L109.4 681.7L109.6 684.7L109.8 686.8L110 689.2L110.2 689L110.4 686.3L110.6 683.8L110.8 680.3L111 675.9L111.2 671L111.4 665.8L111.6 660.5L111.8 655L112 649.3L112.2 643.4L112.4 637.3L112.6 631.2L112.8 625.1L113 619.6L113.2 615.3L113.4 613.1L113.6 614.7L113.8 618.4L114 623.4L114.2 628.9L114.4 634.6L114.6 640.3L114.8 645.8L115 651.2L115.2 656.4L115.4 661.4L115.6 666.3L115.8 671L116 675.2L116.2 678.5L116.4 680.8L116.6 683.4L116.8 683.2L117 680.3L117.2 677.5L117.4 673.8L117.6 669.2L117.8 664.1L118 658.6L118.2 653L118.4 647.2L118.6 641.2L118.8 635L119 628.5L119.2 621.8L119.4 615.2L119.6 609L119.8 604.1L120 601.6L120.2 603.3L120.4 607.4L120.6 612.7L120.8 618.6L121 624.6L121.2 630.5L121.4 636.3L121.6 641.8L121.8 647.2L122 652.4L122.2 657.4L122.4 662.3L122.6 666.9L122.8 670.9L123 674L123.2 676.4L123.4 679.5L123.6 677.6L123.8 674.7L124 671.7L124.2 667.8L124.4 663L124.6 657.8L124.8 652.4L125 646.8L125.2 641L125.4 635L125.6 628.7L125.8 622.2L126 615.5L126.2 608.7L126.4 602L126.6 596.1L126.8 592.1L126.9 591.2L127 591.8L127.2 595.4L127.4 600.8L127.6 607.1L127.8 613.6L128 620L128.2 626.2L128.4 632.1L128.6 637.8L128.8 643.4L129 648.7L129.2 653.9L129.4 658.9L129.6 663.5L129.8 667.2L130 670.1L130.2 672.9L130.4 674.7L130.6 671.1L130.8 668.2L131 664.6L131.2 660.1L131.4 654.9L131.6 649.5L131.8 643.8L132 638L132.2 631.9L132.4 625.7L132.6 619.1L132.8 612.3L133 605.3L133.2 598.2L133.4 591.5L133.6 586.1L133.8 583.4L134 585.8L134.2 591.2L134.4 597.9L134.6 605L134.8 612L135 618.8L135.2 625.2L135.4 631.5L135.6 637.5L135.8 643.3L136 648.9L136.2 654.3L136.4 659.3L136.6 663.3L136.8 666.4L137 669.7L137.2 669.8L137.4 666.4L137.6 663.1L137.8 658.9L138 653.7L138.2 648.1L138.4 642.1L138.6 635.9L138.8 629.5L139 622.8L139.2 615.8L139.4 608.4L139.6 600.7L139.8 592.6L140 584.7L140.2 578L140.4 574.6L140.6 577.4L140.8 583.6L141 591.1L141.2 598.9L141.4 606.4L141.6 613.7L141.8 620.6L142 627.2L142.2 633.7L142.4 639.9L142.6 645.9L142.8 651.8L143 657.3L143.2 662.2L143.4 666.1L143.6 669.6L143.8 674.1L144 669.7L144.2 666.3L144.4 662.4L144.6 657.5L144.8 651.9L145 646L145.2 639.8L145.4 633.4L145.6 626.7L145.8 619.8L146 612.6L146.2 604.9L146.4 596.8L146.6 588.3L146.8 579.8L147 572.4L147.2 568.7L147.4 572.2L147.6 579.7L147.8 588.5L148 597.2L148.2 605.4L148.4 613.3L148.6 620.7L148.8 627.9L149 634.8L149.2 641.5L149.4 648L149.6 654.3L149.8 660.2L150 665.1L150.2 669.5L150.4 674L150.6 674.4L150.8 670.4L151 666.6L151.2 661.9L151.4 656.1L151.6 649.9L151.8 643.3L152 636.5L152.2 629.4L152.4 622L152.6 614.2L152.8 605.9L153 596.9L153.2 587.3L153.4 577L153.6 567.5L153.8 562.4L154 566.9L154.2 576L154.4 586.1L154.6 595.8L154.8 604.8L155 613.4L155.2 621.5L155.4 629.3L155.6 636.9L155.8 644.3L156 651.5L156.2 658.6L156.4 665.5L156.6 671.8L156.8 677.3L157 682.2L157.2 687.4L157.4 684.7L157.6 679.9L157.8 675.1L158 669.4L158.2 663L158.4 656L158.6 648.9L158.8 641.6L159 634.1L159.2 626.3L159.4 618.2L159.6 609.7L159.8 600.5L160 590.7L160.2 579.9L160.4 568.7L160.6 559.5L160.7 557.7L160.8 559.4L161 568.4L161.2 579.5L161.4 590.2L161.6 600.1L161.8 609.1L162 617.7L162.2 625.8L162.4 633.6L162.6 641.1L162.8 648.5L163 655.7L163.2 662.7L163.4 669.3L163.6 675.1L163.8 680.1L164 685L164.2 687.9L164.4 682.5L164.6 677.7L164.8 672.3L165 666L165.2 659.1L165.4 651.9L165.6 644.5L165.8 637L166 629.2L166.2 621.1L166.4 612.6L166.6 603.7L166.8 594L167 583.4L167.2 571.9L167.4 560.4L167.6 554.2L167.8 560.7L168 572.7L168.2 584.6L168.4 595.4L168.6 605.4L168.8 614.6L169 623.3L169.2 631.7L169.4 639.7L169.6 647.6L169.8 655.3L170 662.8L170.2 670.2L170.4 676.9L170.6 682.7L170.8 688.8L171 689.3L171.2 684.2L171.4 679.2L171.6 673.2L171.8 666.4L172 659L172.2 651.4L172.4 643.5L172.6 635.4L172.8 627L173 618.1L173.2 608.6L173.4 598.4L173.6 587L173.8 574L174 560L174.2 551.4L174.4 559.4L174.6 573.2L174.8 586.2L175 597.9L175.2 608.5L175.4 618.4L175.6 627.8L175.8 636.9L176 645.8L176.2 654.5L176.4 663.1L176.6 671.6L176.8 679.9L177 687.8L177.2 694.4L177.4 700.4L177.6 707.1L177.8 703.6L178 697.4L178.2 691.2L178.4 684.2L178.6 676.4L178.8 668.2L179 659.9L179.2 651.4L179.4 642.7L179.6 633.8L179.8 624.6L180 614.9L180.2 604.5L180.4 593.1L180.6 580.2L180.8 565.4L181 550.6L181.1 547.4L181.2 550.6L181.4 565.2L181.6 580.1L181.8 592.9L182 604.3L182.2 614.7L182.4 624.4L182.6 633.7L182.8 642.6L183 651.4L183.2 659.9L183.4 668.4L183.6 676.7L183.8 684.6L184 691.8L184.2 698.2L184.4 704.5L184.6 708.2L184.8 701.3L185 695.2L185.2 688.4L185.4 680.9L185.6 672.7L185.8 664.4L186 655.8L186.2 647.2L186.4 638.3L186.6 629.2L186.8 619.7L187 609.7L187.2 598.8L187.4 586.7L187.6 572.7L187.8 556.8L188 546.4L188.2 557.8L188.4 574.5L188.6 589L188.8 601.6L189 612.9L189.2 623.4L189.4 633.3L189.6 642.9L189.8 652.3L190 661.4L190.2 670.8L190.4 680L190.6 688.8L190.8 696.8L191 704.1L191.2 712.2L191.4 708.7L191.6 702.1L191.8 695.3L192 687.5L192.2 679L192.4 670.1L192.6 661.1L192.8 651.9L193 642.4L193.2 632.6L193.4 622.3L193.6 611.4L193.8 599.3L194 585.6L194.2 569L194.4 550.4L194.5 545.8L194.6 550L194.8 567.7L195 584.2L195.2 598.2L195.4 610.6L195.6 621.9L195.8 632.6L196 642.9L196.2 652.9L196.4 662.8L196.6 672.5L196.8 682.1L197 691.7L197.2 700.7L197.4 709.3L197.6 717.2L197.8 725.2L198 729.6L198.2 721.8L198.4 714.4L198.6 706.6L198.8 698.3L199 689.7L199.2 680.9L199.4 672L199.6 663L199.8 653.8L200 644.2L200.2 634.2L200.4 623.6L200.6 611.8L200.8 598.4L201 582.2L201.2 561.7L201.4 545.2L201.6 561.9L201.8 583L202 599.8L202.2 613.9L202.4 626.3L202.6 637.6L202.8 648.2L203 658.3L203.2 668.1L203.4 677.6L203.6 686.9L203.8 696L204 704.9L204.2 713.5L204.4 721.7L204.6 729.6L204.8 737.7L205 733.9L205.2 726.5L205.4 719L205.6 711.2L205.8 703L206 694.6L206.2 686.1L206.4 677.4L206.6 668.4L206.8 659.1L207 649.3L207.2 638.8L207.4 627.3L207.6 614.1L207.8 598.4L208 578.1L208.2 552.5L208.3 545.5L208.4 552.6L208.6 578.7L208.8 599.6L209 616.1L209.2 629.9L209.4 642.2L209.6 653.4L209.8 663.8L210 673.7L210.2 683.1L210.4 692.3L210.6 701.1L210.8 709.8L211 718.2L211.2 726.6L211.4 734.9L211.6 743.1L211.8 747.5L212 740.5L212.2 733.4L212.4 726.1L212.6 718.6L212.8 710.9L213 703L213.2 694.8L213.4 686.4L213.6 677.5L213.8 668.2L214 658.1L214.2 646.9L214.4 634.3L214.6 619.2L214.8 600L215 573.2L215.2 547.4L215.4 573.8L215.6 601.6L215.8 622L216 638.3L216.2 652.2L216.4 664.5L216.6 675.8L216.8 686.4L217 696.4L217.2 706L217.4 715.3L217.6 724.4L217.8 733.2L218 741.8L218.2 750.4L218.4 758.7L218.6 767L218.8 763.7L219 756.5L219.2 749L219.4 741.3L219.6 733.6L219.8 725.7L220 717.5L220.2 709.1L220.4 700.3L220.6 691L220.8 681L221 670L221.2 657.6L221.4 643L221.6 624.7L221.8 599.8L222 563.1L222.1 550.5L222.2 563.3L222.4 600.7L222.6 626.5L222.8 645.6L223 661.1L223.2 674.4L223.4 686.3L223.6 697.1L223.8 707.1L224 716.6L224.2 725.6L224.4 734.2L224.6 742.5L224.8 750.6L225 758.4L225.2 766L225.4 773.5L225.6 777.2L225.8 770.5L226 763.7L226.2 756.7L226.4 749.6L226.6 742.3L226.8 734.7L227 726.8L227.2 718.6L227.4 709.8L227.6 700.2L227.8 689.8L228 678L228.2 664.1L228.4 647.2L228.6 624.7L228.8 591.3L229 552.7L229.2 591.8L229.4 626.1L229.6 649.5L229.8 667.4L230 682.1L230.2 694.8L230.4 706.1L230.6 716.4L230.8 725.9L231 734.8L231.2 743.2L231.4 751.2L231.6 758.9L231.8 766.2L232 773.3L232.2 780.1L232.4 786.7L232.6 783.8L232.8 777.8L233 771.6L233.2 765L233.4 758.3L233.6 751.2L233.8 743.8L234 736.1L234.2 727.7L234.4 718.7L234.6 708.8L234.8 697.5L235 684.5L235.2 668.7L235.4 648.3L235.6 619.3L235.8 573.2L235.9 555.2L236 573.3L236.2 620L236.4 649.6L236.6 670.6L236.8 687.1L237 700.8L237.2 712.6L237.4 723L237.6 732.4L237.8 740.9L238 748.8L238.2 756.2L238.4 763.1L238.6 769.5L238.8 775.5L239 781.2L239.2 786.6L239.4 789.1L239.6 784.2L239.8 779L240 773.5L240.2 767.8L240.4 761.8L240.6 755.4L240.8 748.5L241 741.1L241.2 733L241.4 723.9L241.6 713.5L241.8 701.5L242 687L242.2 668.6L242.4 643.5L242.6 604.9L242.8 558.3L243 605.3L243.2 644.5L243.4 670.3L243.6 689.3L243.8 704.5L244 717.1L244.2 727.9L244.4 737.4L244.6 745.8L244.8 753.4L245 760.3L245.2 766.6L245.4 772.3L245.6 777.6L245.8 782.4L246 786.9L246.2 790.9L246.4 789L246.6 785.1L246.8 780.8L247 776.2L247.2 771.9L247.4 767L247.6 761.7L247.8 755.7L248 748.9L248.2 741.2L248.4 732.3L248.6 721.7L248.8 708.9L249 692.7L249.2 671L249.4 639.2L249.6 586.5L249.7 565.2L249.8 585.5L250 638.4L250.2 671.7L250.4 694.9L250.6 712.7L250.8 727.1L251 739.3L251.2 749.8L251.4 759L251.6 767.3L251.8 774.7L252 781.6L252.2 787.8L252.4 793.6L252.6 799.1L252.8 804.2L253 808.9L253.2 813.5L253.4 814.2L253.6 811.2L253.8 807.9L254 804.3L254.2 800.4L254.4 796.2L254.6 791.5L254.8 786.2L255 780.4L255.2 773.3L255.4 765.1L255.6 755.7L255.8 744.5L256 730.9L256.2 713.7L256.4 690.6L256.6 656.5L256.8 597.4L256.9 570.9L257 597.7L257.2 657.3L257.4 692L257.6 715.7L257.8 733.4L258 747.6L258.2 759.3L258.4 769.3L258.6 778L258.8 785.8L259 792.7L259.2 799L259.4 804.8L259.6 810.2L259.8 815.3L260 820.1L260.2 824.7L260.4 829L260.6 829.4L260.8 825.6L261 821.6L261.2 817.4L261.4 812.9L261.6 808L261.8 802.7L262 797L262.2 790.6L262.4 783.4L262.6 775.2L262.8 765.7L263 754.6L263.2 741L263.4 723.7L263.6 700.6L263.8 666L264 604.1L264.1 573.3L264.2 606.1L264.4 669.6L264.6 704.9L264.8 728.7L265 746.4L265.2 760.6L265.4 772.3L265.6 782.3L265.8 791L266 798.8L266.2 805.8L266.4 812.2L266.6 818.2L266.8 823.8L267 829.1L267.2 834.7L267.4 840.2L267.6 843.4L267.8 839.3L268 835L268.2 830.4L268.4 825.5L268.6 820.3L268.8 814.6L269 808.3L269.2 801.5L269.4 793.7L269.6 784.9L269.8 774.7L270 762.4L270.2 747.2L270.4 727.4L270.6 699.5L270.8 653.1L271 574L271.2 651.1L271.4 698L271.6 726.8L271.8 747.3L272 763.4L272.2 776.5L272.4 787.7L272.6 797.5L272.8 806.3L273 814.5L273.2 822.1L273.4 829.6L273.6 836.7L273.8 843.8L274 851.2L274.2 858.5L274.4 865.9L274.6 874.1L274.8 867L275 860.7L275.2 854.3L275.4 848L275.6 841.6L275.8 835.1L276 828.6L276.2 821.4L276.4 813.8L276.6 805.8L276.8 796.5L277 785.9L277.2 773.5L277.4 758.1L277.6 738.2L277.8 710.1L278 663.4L278.2 579.9L278.4 663.2L278.6 710.7L278.8 739.6L279 760.3L279.2 776.4L279.4 789.4L279.6 801.4L279.8 810.9L280 821L280.2 828.6L280.4 836.3L280.6 843.3L280.8 851.4L281 859.3L281.2 867.5L281.4 875.8L281.6 883.8L281.8 894.1L282 889.5L282.2 912.8L282.4 873.3L282.6 865.2L282.8 857.1L283 848.6L283.2 841L283.4 832L283.6 824.4L283.8 814.2L284 805.4L284.2 882.3L284.4 781.2L284.6 766.7L284.8 748.6L285 724.6L285.2 688.9L285.4 621.7L285.5 580.9L285.6 625.1L285.8 693.3L286 728.8L286.2 752.5L286.4 770.4L286.6 784.8L286.8 797.4L287 810.2L287.2 908.8L287.4 830.5L287.6 839.9L287.8 850.5L288 863.5L288.2 875.8L288.4 886.6L288.6 899.5L288.8 912.8L289 912.8L289.2 903.3L289.4 912.8L289.6 875.5L289.8 860.4L290 849.6L290.2 839.1L290.4 828.5L290.6 818L290.8 805.9L291 793.7L291.2 781.8L291.4 766.4L291.6 747.9L291.8 723.8L292 688.2L292.2 622.6L292.3 585.6L292.4 619.9L292.6 683.8L292.8 718.9L293 742.5L293.2 760.6L293.4 775L293.6 788L293.8 799L294 808.3L294.2 818.5L294.4 827.2L294.6 839.8L294.8 847.1L295 856L295.2 866.9L295.4 877.9L295.6 889.3L295.8 902.3L296 912.8L296.2 888L296.4 880.1L296.6 865.4L296.8 912.8L297 842.1L297.2 912.8L297.4 821.6L297.6 814.1L297.8 806.7L298 850L298.2 783.9L298.4 770.4L298.6 755.4L298.8 737.3L299 713.3L299.2 678L299.4 614.5L299.5 581.5L299.6 613.8L299.8 676.6L300 711.5L300.2 735.2L300.4 753.2L300.6 767.5L300.8 779L301 791.1L301.2 800L301.4 807.6L301.6 821.8L301.8 905.8L302 836.5L302.2 912.8L302.4 912.8L302.6 859.7L302.8 871.7L303 901.8L303.2 883.4L303.4 898.3L303.6 912.8L303.8 851.7L304 844.6L304.2 836.4L304.4 824.4L304.6 823.2L304.8 812.8L305 806.3L305.2 794.6L305.4 784.8L305.6 772.6L305.8 760.6L306 744.7L306.2 724.5L306.4 696.3L306.6 651L306.8 584.9L307 651.9L307.2 697.3L307.4 725.5L307.6 745.7L307.8 761.2L308 776.2L308.2 785.8L308.4 796.3L308.6 803.6L308.8 810.1L309 912.8L309.2 827.5L309.4 829.2L309.6 841.5L309.8 848L310 901.2L310.2 852.9L310.4 859.9L310.6 860.8L310.8 846.4L311 843.8L311.2 912.8L311.4 898.1L311.6 912.8L311.8 852.2L312 815L312.2 912.8L312.4 792.4L312.6 784.5L312.8 773.6L313 761.1L313.2 745.8L313.4 725.7L313.6 697.6L313.8 652.2L314 585.6L314.2 652.2L314.4 697.6L314.6 725.7L314.8 745.8L315 761.4L315.2 775.4L315.4 783.9L315.6 793.7L315.8 801.4L316 808.6L316.2 818.1L316.4 821.7L316.6 827.4L316.8 834L317 912.8L317.2 901.4L317.4 846.2L317.6 912.8L317.8 912.8L318 912.8L318.2 912.8L318.4 912.8L318.6 912.8L318.8 818.6L319 912.8L319.2 807.2L319.4 801.4L319.6 912.8L319.8 912.8L320 775.7L320.2 760L320.4 745.9L320.6 725.9L320.8 697.8L321 652.4L321.2 585.2L321.4 652.4L321.6 697.8L321.8 725.9L322 745.9L322.2 761.3L322.4 773.5L322.6 782L322.8 912.8L323 798.4L323.2 804.9L323.4 902L323.6 816.2L323.8 912.8L324 890.8L324.2 840.3L324.4 911.1L324.6 905.4L324.8 849.2L325 912.8L325.2 825.9L325.4 829.4L325.6 912.8L325.8 861.7L326 912.8L326.2 806.3L326.4 804.8L326.6 798.4L326.8 793.2L327 782.2L327.2 772.8L327.4 762L327.6 746.1L327.8 726.1L328 698.1L328.2 652.9L328.4 587.1L328.6 653L328.8 698.2L329 726.2L329.2 746.1L329.4 760.8L329.6 773.4L329.8 783.2L330 864.8L330.2 878.9L330.4 813.4L330.6 819.5L330.8 901.7L331 912.8L331.2 891.6L331.4 912.8L331.6 827.4L331.8 832.5L332 912.8L332.2 831.7L332.4 899.9L332.6 903.5L332.8 912.8L333 912.8L333.2 912.8L333.4 908.2L333.6 804.7L333.8 912.8L334 795.4L334.2 783.9L334.4 772.9L334.6 760L334.8 746.3L335 726.5L335.2 698.6L335.4 653.7L335.6 590.3L335.8 653.7L336 698.6L336.2 726.5L336.4 746.4L336.6 761.1L336.8 772.2L337 788.4L337.2 796L337.4 791.7L337.6 912.8L337.8 902.3L338 912.8L338.2 828.1L338.4 912.8L338.6 831.3L338.8 907.7L339 831.2L339.2 833.8L339.4 832.8L339.6 912.8L339.8 912.8L340 865.2L340.2 820.3L340.4 912.8L340.6 912.4L340.8 803.9L341 797.2L341.2 888.6L341.4 786.6L341.6 774L341.8 762.7L342 746.7L342.2 726.8L342.4 699.1L342.6 654.7L342.8 594.9L343 652.4L343.2 696.4L343.4 724.1L343.6 743.9L343.8 758.2L344 770.9L344.2 781.6L344.4 794.2L344.6 797.5L344.8 801L345 912.8L345.2 822L345.4 822.6L345.6 912.8L345.8 827.7L346 912.8L346.2 912.8L346.4 912.8L346.6 838.6L346.8 897L347 831.2L347.2 912.8L347.4 833.6L347.6 822.2L347.8 912.8L348 818.7L348.2 893.3L348.4 909.1L348.6 792.7L348.8 786.8L349 779.7L349.2 765.8L349.4 752.7L349.6 735L349.8 711.9L350 677.9L350.2 621.6L350.3 598.7L350.4 623.1L350.6 680.6L350.8 714.8L351 737.9L351.2 755.2L351.4 770.3L351.6 782.9L351.8 792.1L352 840.5L352.2 812.1L352.4 808L352.6 912.8L352.8 912.8L353 912.8L353.2 888.7L353.4 912.8L353.6 912.8L353.8 873.3L354 912.8L354.2 912.8L354.4 823.7L354.6 912.8L354.8 912.8L355 902.6L355.2 869L355.4 806.8L355.6 805.3L355.8 912.8L356 880.9L356.2 777.8L356.4 770.7L356.6 755.2L356.8 738.2L357 715.1L357.2 681.2L357.4 625L357.5 602.2L357.6 625.1L357.8 681.2L358 715.2L358.2 738.3L358.4 754.9L358.6 770.1L358.8 782.9L359 788.6L359.2 797.3L359.4 803.8L359.6 813.3L359.8 812.5L360 912.8L360.2 912.8L360.4 912.8L360.6 912.8L360.8 836.4L361 831.2L361.2 912.8L361.4 835.9L361.6 831.2L361.8 912.8L362 912.8L362.2 870L362.4 912.8L362.6 911.6L362.8 870.7L363 912.8L363.2 788.3L363.4 782.6L363.6 770.5L363.8 755.9L364 738.5L364.2 715.5L364.4 681.7L364.6 626.3L364.7 604.3L364.8 625L365 679.2L365.2 712.8L365.4 735.8L365.6 753.1L365.8 766.5L366 778.9L366.2 784.5L366.4 912.8L366.6 808.1L366.8 807.4L367 912.8L367.2 912.8L367.4 880L367.6 861.6L367.8 912.8L368 841.1L368.2 912.8L368.4 912.8L368.6 912.8L368.8 832.6L369 887.4L369.2 912.8L369.4 823.4L369.6 912.8L369.8 815.4L370 881.3L370.2 888.6L370.4 794.1L370.6 793.3L370.8 782.5L371 771.3L371.2 761.2L371.4 745.2L371.6 725.6L371.8 698.3L372 656.3L372.2 607.8L372.4 658.6L372.6 701.1L372.8 728.4L373 748.1L373.2 763.9L373.4 774.4L373.6 792.8L373.8 794.9L374 799.5L374.2 806.9L374.4 811.1L374.6 912.8L374.8 912.8L375 912.8L375.2 912.8L375.4 912.8L375.6 912.8L375.8 912.8L376 912.8L376.2 912.8L376.4 912.8L376.6 853.4L376.8 912.8L377 912.8L377.2 812L377.4 812.7L377.6 795.1L377.8 794.7L378 785.9L378.2 774.8L378.4 764.3L378.6 748.5L378.8 728.9L379 701.9L379.2 661L379.4 616.6L379.6 658.4L379.8 698.6L380 725.4L380.2 744.9L380.4 759.8L380.6 771.6L380.8 774.1L381 792.4L381.2 796.1L381.4 906.7L381.6 808.6L381.8 902.6L382 818.5L382.2 904.4L382.4 864.1L382.6 912.8L382.8 901.5L383 912.8L383.2 912.8L383.4 837.4L383.6 912.8L383.8 870.2L384 912.8L384.2 816.6L384.4 912.8L384.6 912.8L384.8 912.8L385 804.5L385.2 798.6L385.4 796.7L385.6 780.6L385.8 769.8L386 760.6L386.2 745.3L386.4 725.9L386.6 699.5L386.8 661L387 624.1L387.2 661.8L387.4 700.5L387.6 726.9L387.8 746.3L388 761.2L388.2 773.3L388.4 782.9L388.6 794.1L388.8 801.8L389 845L389.2 912.8L389.4 852L389.6 816.7L389.8 912.8L390 825.8L390.2 911.6L390.4 912.8L390.6 830L390.8 912.8L391 905.9L391.2 912.8L391.4 888.2L391.6 903.4L391.8 912.8L392 816.3L392.2 893.6L392.4 809.7L392.6 803.8L392.8 793.9L393 789.7L393.2 781.4L393.4 768.3L393.6 754.1L393.8 737.8L394 715.8L394.2 685L394.4 644L394.5 632.9L394.6 644.2L394.8 685.2L395 715.9L395.2 738L395.4 755L395.6 767.4L395.8 780.2L396 792.4L396.2 795.3L396.4 844.3L396.6 811.8L396.8 912.8L397 812.4L397.2 828.8L397.4 857.9L397.6 912.8L397.8 894.5L398 847.3L398.2 849.9L398.4 912.8L398.6 912.8L398.8 912.8L399 857.4L399.2 912.8L399.4 823.8L399.6 807.6L399.8 810L400 804.4L400.2 804.3L400.4 799.3L400.6 789.5L400.8 775.4L401 765.9L401.2 750.9L401.4 732.5L401.6 707.7L401.8 673L402 644.1L402.2 673.9L402.4 709.9L402.6 735.9L402.8 754.9L403 768L403.2 783.4L403.4 840.8L403.6 805.8L403.8 806L404 819.9L404.2 882.4L404.4 822.7L404.6 911.2L404.8 838.5L405 837.2L405.2 912.8L405.4 912.8L405.6 841.7L405.8 851.7L406 860.5L406.2 912.8L406.4 879L406.6 910.2L406.8 830L407 912.8L407.2 845.2L407.4 885L407.6 912.8L407.8 912.8L408 890.5L408.2 803.5L408.4 790.7L408.6 780.4L408.8 765L409 742.2L409.2 711.3L409.4 667.8L409.5 655.1L409.6 668.2L409.8 712.9L410 745.1L410.2 765.8L410.4 783.7L410.6 804.3L410.8 847.8L411 912.8L411.2 819.2L411.4 912.8L411.6 848.2L411.8 895.7L412 843.9L412.2 867.8L412.4 908L412.6 893.4L412.8 912.8L413 851.3L413.2 912.8L413.4 882.8L413.6 849.4L413.8 850.3L414 912.8L414.2 912.8L414.4 912.8L414.6 912.8L414.8 846.5L415 857.5L415.2 853.7L415.4 834.8L415.6 892.1L415.8 856.6L416 896.3L416.2 797.3L416.4 776.2L416.6 749.7L416.8 710.6L417 670.8L417.2 713.6L417.4 754.4L417.6 779.4L417.8 804.8L418 912.8L418.2 855.2L418.4 912.8L418.6 851.2L418.8 852.1L419 899.8L419.2 855.5L419.4 849.9L419.6 850.3L419.8 912.8L420 853.1L420.2 855.6L420.4 856L420.6 851.2L420.8 902.3L421 912.8L421.2 912.8L421.4 875.8L421.6 851.7L421.8 912.8L422 892.3L422.2 907.8L422.4 912.8L422.6 851.5L422.8 907.8L423 853.6L423.2 864.9L423.4 812.9L423.6 798.8L423.8 768.5L424 731L424.2 681.7L424.4 729.2L424.6 773.1L424.8 802.8L425 823.3L425.2 842.4L425.4 912.8L425.6 847.6L425.8 912.8L426 851.7L426.2 857.6L426.4 848.6L426.6 847L426.8 859L427 868L427.2 853.6L427.4 899.8L427.6 850L427.8 906.8L428 852.7L428.2 912.8L428.4 849.5L428.6 851.9L428.8 870.5L429 877.6L429.2 865.3L429.4 912.8L429.6 851.5L429.8 912.8L430 862.2L430.2 876.3L430.4 872.1L430.6 857.4L430.8 912.8L431 912.8L431.2 912.2L431.4 812.6L431.6 765.6L431.8 695.8L432 767.1L432.2 817.8L432.4 856.8L432.6 853L432.8 851.2L433 854.4L433.2 912.8L433.4 852.8L433.6 893.7L433.8 912.8L434 884.4L434.2 855.3L434.4 912.8L434.6 876.6L434.8 912.8L435 861L435.2 867.2L435.4 894.3L435.6 859.4L435.8 854.3L436 853.4L436.2 861.5L436.4 867.2L436.6 881L436.8 876.1L437 856.4L437.2 912.8L437.4 854.5L437.6 912.8L437.8 910.1L438 854.1L438.2 912.8L438.4 857.5L438.6 855.7L438.8 863.9L439 833.9L439.2 764L439.3 712.4L439.4 766.9L439.6 840.6L439.8 861L440 858.9L440.2 876.3L440.4 855.7L440.6 854.7L440.8 881L441 880.6L441.2 875.4L441.4 912.8L441.6 851.9L441.8 912.8L442 859.8L442.2 854.2L442.4 857.1L442.6 897.2L442.8 858.8L443 912.8L443.2 855.2L443.4 857.4L443.6 855L443.8 863.7L444 912.8L444.2 855.5L444.4 880.3L444.6 854.2L444.8 912.8L445 912.8L445.2 912.8L445.4 858.3L445.6 912.8L445.8 912.8L446 912.8L446.2 880.3L446.4 865.2L446.6 822.3L446.8 721.8L447 826.3L447.2 853.7L447.4 853.7L447.6 912.8L447.8 861.2L448 912.8L448.2 912.8L448.4 857.1L448.6 890.7L448.8 860.7L449 859.8L449.2 880.9L449.4 859.2L449.6 858.5L449.8 855.6L450 912.8L450.2 856.1L450.4 912.8L450.6 852.9L450.8 859.6L451 912.8L451.2 874.9L451.4 900.1L451.6 895.1L451.8 869.2L452 902.8L452.2 861L452.4 857.1L452.6 857.2L452.8 912.8L453 867L453.2 856.5L453.4 856.2L453.6 895.6L453.8 857.4L454 841.3L454.2 786.1L454.3 735.9L454.4 786.8L454.6 900.9L454.8 902.2L455 882.4L455.2 866L455.4 858L455.6 894L455.8 857.9L456 912.8L456.2 863.3L456.4 881L456.6 863.7L456.8 861.1L457 912.8L457.2 856.4L457.4 912.8L457.6 867.8L457.8 858.6L458 912.8L458.2 912.5L458.4 912.8L458.6 912.8L458.8 858.6L459 866.2L459.2 912.8L459.4 912.8L459.6 908.9L459.8 912.8L460 862.6L460.2 896.3L460.4 912.8L460.6 895.8L460.8 860.7L461 862.7L461.2 912.8L461.4 912.8L461.6 834.5L461.8 747.5L462 834.8L462.2 879.6L462.4 864.8L462.6 912.8L462.8 909.6L463 874.9L463.2 912.8L463.4 866L463.6 860.2L463.8 896.8L464 867.5L464.2 892.6L464.4 912.8L464.6 909.7L464.8 892.7L465 869.8L465.2 857.6L465.4 857.6L465.6 889.8L465.8 912.8L466 860.8L466.2 860.3L466.4 857.9L466.6 912.8L466.8 856.8L467 882.9L467.2 912.8L467.4 912.8L467.6 912.8L467.8 900.5L468 912.8L468.2 874.2L468.4 893.4L468.6 858.6L468.8 856.2L469 912.8L469.2 867.8L469.4 912.8L469.6 808.5L469.7 760.4L469.8 799.8L470 887.5L470.2 890.7L470.4 912.8L470.6 912.8L470.8 912.8L471 866.4L471.2 864L471.4 861.8L471.6 912.8L471.8 870.5L472 882.9L472.2 885.2L472.4 858.4L472.6 858.8L472.8 855.9L473 858.8L473.2 861.8L473.4 856L473.6 862.4L473.8 912.8L474 855.7L474.2 859.7L474.4 855.7L474.6 900.1L474.8 856.9L475 860.9L475.2 861.5L475.4 867.2L475.6 912.8L475.8 875.1L476 912.8L476.2 858L476.4 888.8L476.6 856.9L476.8 905.7L477 856.3L477.2 912.8L477.4 805.4L477.5 776.9L477.6 818.1L477.8 861.4L478 912.8L478.2 871.3L478.4 861L478.6 912.8L478.8 864.6L479 912.8L479.2 874.4L479.4 912.8L479.6 858.2L479.8 912.8L480 912.8L480.2 911.2L480.4 909.2L480.6 874.6L480.8 865.4L481 884.2L481.2 912.8L481.4 896.8L481.6 865.1L481.8 883.9L482 863.7L482.2 887.5L482.4 864L482.6 874.7L482.8 862.5L483 906.6L483.2 864.5L483.4 860.1L483.6 872.1L483.8 861.5L484 893.1L484.2 860.4L484.4 859L484.6 912.8L484.8 829.8L484.9 789.5L485 824.9L485.2 858.5L485.4 880L485.6 858.1L485.8 867.1L486 858.5" fill="none" stroke="#00009b" stroke-width="1.12" stroke-linejoin="round" clip-path="url(#clipC)"/>
<rect x="67.8" y="750.6" width="140.7" height="147.8" fill="#fff" stroke="#4a4a4a" stroke-width="1.1"/><path d="M86.4 898.4v-3.2M86.4 750.6v3.2M109.9 898.4v-2M109.9 750.6v2M133.3 898.4v-3.2M133.3 750.6v3.2M156.8 898.4v-2M156.8 750.6v2M180.3 898.4v-3.2M180.3 750.6v3.2M203.7 898.4v-2M203.7 750.6v2M67.8 765h2.6M208.5 765h-2.6M67.8 779.8h2.6M208.5 779.8h-2.6M67.8 794.7h2.6M208.5 794.7h-2.6M67.8 809.5h2.6M208.5 809.5h-2.6M67.8 824.3h2.6M208.5 824.3h-2.6M67.8 839.1h2.6M208.5 839.1h-2.6M67.8 854h2.6M208.5 854h-2.6M67.8 868.8h2.6M208.5 868.8h-2.6M67.8 883.6h2.6M208.5 883.6h-2.6" stroke="#4a4a4a" stroke-width="1" fill="none"/><path d="M68.1 878.9L68.4 879.6L68.7 879.2L69 879.7L69.3 879.7L69.6 878.5L69.9 878.3L70.2 880.2L70.5 878.9L70.8 878.8L71.1 880.5L71.4 879.3L71.7 880.1L72 879.3L72.3 879.6L72.6 878.5L72.9 879.6L73.2 880.1L73.5 879.3L73.8 879.8L74.1 879.6L74.4 878.3L74.7 879.8L75 879.4L75.3 878.7L75.6 878.1L75.9 880L76.2 879.1L76.5 879.6L76.8 880L77.1 879.6L77.4 880L77.7 878.8L78 879.7L78.3 878.9L78.6 880L78.9 879.8L79.2 878.1L79.5 878.2L79.8 878.3L80.1 880L80.4 878.8L80.7 879.2L81 878.4L81.3 878.9L81.6 878.6L81.9 878.5L82.2 879L82.5 879L82.8 879.6L83.1 879.1L83.4 879.7L83.7 879.5L84 879.7L84.3 879L84.6 877.9L84.9 879.4L85.2 879.6L85.5 879.4L85.8 878.7L86.1 879L86.4 877.8L86.7 879.2L87 878.6L87.3 877.9L87.6 877.4L87.9 879.1L88.2 879.4L88.5 877.4L88.8 878.9L89.1 878L89.4 877.4L89.7 877.7L90 878.7L90.3 878.9L90.6 877.1L90.9 878.3L91.2 877L91.5 878.5L91.8 877.6L92.1 878.7L92.4 878.9L92.7 877.9L93 878.9L93.3 877.4L93.6 876.8L93.9 877.9L94.2 876.7L94.5 877L94.8 877.4L95.1 877.8L95.4 876.8L95.7 876.5L96 878.2L96.3 877L96.6 878.3L96.9 878.1L97.2 877L97.5 877.1L97.8 877.2L98.1 877.4L98.4 877.3L98.7 877.1L99 877.2L99.3 877.8L99.6 876.9L99.9 876.6L100.2 877.2L100.5 876.1L100.8 876.2L101.1 877.6L101.4 876.5L101.7 876.5L102 875.4L102.3 876.1L102.6 876.4L102.9 875.2L103.2 876.3L103.5 876.3L103.8 875L104.1 876.1L104.4 875.7L104.7 876.1L105 875.3L105.3 876L105.6 876L105.9 874.4L106.2 874.4L106.5 875.6L106.8 876L107.1 874.5L107.4 874.8L107.7 875L108 874.3L108.3 874.3L108.6 874.1L108.9 874.1L109.2 874.4L109.5 873.7L109.8 873.8L110.1 874.4L110.4 872.8L110.7 873.7L111 873.9L111.3 872.9L111.6 872.6L111.9 873.6L112.2 872.4L112.5 872.1L112.8 872.4L113.1 872.7L113.4 871.4L113.7 871.7L114 871.5L114.3 872.2L114.6 871.3L114.9 871.8L115.2 870.4L115.5 870.4L115.8 870.8L116.1 870.9L116.4 869.9L116.7 869.3L117 868.8L117.3 869.2L117.6 868.4L117.9 869.1L118.2 868.9L118.5 867.4L118.8 867.3L119.1 867.8L119.4 867.1L119.7 867L120 865.9L120.3 865.1L120.6 865L120.9 865.3L121.2 864L121.5 863.7L121.8 863.3L122.1 862.7L122.4 862.2L122.7 862.3L123 860.6L123.3 859.8L123.6 860.4L123.9 859.6L124.2 859L124.5 857.5L124.8 857.3L125.1 856.4L125.4 854.7L125.7 854.4L126 853.5L126.3 852.3L126.6 851L126.9 849.7L127.2 848.5L127.5 847.2L127.8 845.7L128.1 844.7L128.4 843L128.7 841.9L129 839.7L129.3 838.5L129.6 836.5L129.9 834.7L130.2 832.7L130.5 830.5L130.8 828.2L131.1 825.6L131.4 823.4L131.7 820.6L132 818L132.3 815.2L132.6 812.3L132.9 809.2L133.2 806.1L133.5 802.9L133.8 799.5L134.1 796.1L134.4 792.7L134.7 789.2L135 785.8L135.3 782.4L135.6 779.1L135.9 775.9L136.2 772.9L136.5 770.1L136.8 767.6L137.1 765.4L137.4 763.5L137.7 762.1L138 761.1L138.3 760.5L138.6 760.5L138.9 760.8L139.2 761.7L139.5 763L139.8 764.7L140.1 766.8L140.4 769.2L140.7 771.9L141 774.8L141.3 778L141.6 781.2L141.9 784.6L142.2 788L142.5 791.5L142.8 794.9L143.1 798.3L143.4 801.7L143.7 804.9L144 808.1L144.3 811.2L144.6 814.2L144.9 817L145.2 819.7L145.5 822.3L145.8 824.8L146.1 827.1L146.4 829.5L146.7 831.8L147 833.6L147.3 835.4L147.6 837.3L147.9 839.2L148.2 841L148.5 842.7L148.8 843.9L149.1 845.7L149.4 846.9L149.7 848L150 849.2L150.3 850.4L150.6 851.8L150.9 852.5L151.2 853.8L151.5 854.5L151.8 855.1L152.1 856.3L152.4 857.3L152.7 857.3L153 858.5L153.3 859.2L153.6 860.5L153.9 861.2L154.2 861.1L154.5 862.4L154.8 862.8L155.1 862.6L155.4 863.4L155.7 863.4L156 864.9L156.3 865.1L156.6 865.9L156.9 866.2L157.2 866.4L157.5 866.9L157.8 866.9L158.1 866.5L158.4 867.7L158.7 867L159 867.6L159.3 868.9L159.6 868L159.9 868.3L160.2 868.6L160.5 870.2L160.8 869.3L161.1 869.2L161.4 870.9L161.7 869.8L162 871.4L162.3 871.3L162.6 871.8L162.9 872.2L163.2 871.7L163.5 872.3L163.8 871L164.1 872.6L164.4 872.2L164.7 872.8L165 871.8L165.3 873.2L165.6 873.7L165.9 872.1L166.2 872.8L166.5 873.4L166.8 874L167.1 873L167.4 873L167.7 873.2L168 874.1L168.3 874.5L168.6 873.9L168.9 873.9L169.2 874.1L169.5 874.1L169.8 874.3L170.1 873.7L170.4 874.7L170.7 875.7L171 874.7L171.3 875.4L171.6 874.3L171.9 875.5L172.2 875.7L172.5 875.6L172.8 875.3L173.1 875.3L173.4 875.7L173.7 876.3L174 874.9L174.3 874.8L174.6 876.2L174.9 876.6L175.2 875.9L175.5 875.8L175.8 876.4L176.1 875.3L176.4 875.6L176.7 875.5L177 876.3L177.3 875.8L177.6 875.7L177.9 876.7L178.2 877.3L178.5 876L178.8 876.9L179.1 876.3L179.4 877.3L179.7 876.8L180 876.1L180.3 876.1L180.6 875.7L180.9 876.7L181.2 876.5L181.5 876.1L181.8 876.6L182.1 876.5L182.4 877.5L182.7 876.2L183 878L183.3 877L183.6 877.3L183.9 877L184.2 877.8L184.5 877.8L184.8 877.3L185.1 877.2L185.4 877.7L185.7 878L186 877.1L186.3 877.8L186.6 878.3L186.9 877.3L187.2 876.8L187.5 876.8L187.8 877.9L188.1 877.8L188.4 878.5L188.7 878.3L189 877L189.3 876.9L189.6 877L189.9 876.9L190.2 878.1L190.5 878.4L190.8 878.5L191.1 877.1L191.4 878.5L191.7 877.3L192 877.6L192.3 878.3L192.6 876.9L192.9 876.9L193.2 878.5L193.5 877.4L193.8 877.5L194.1 878L194.4 878.3L194.7 876.8L195 877.5L195.3 877.8L195.6 877.9L195.9 877.3L196.2 878.1L196.5 879L196.8 877.7L197.1 878.1L197.4 877.2L197.7 877.5L198 878.4L198.3 877.2L198.6 878.9L198.9 879L199.2 877.2L199.5 879.1L199.8 877.8L200.1 878.7L200.4 878.7L200.7 877.7L201 878.5L201.3 878.5L201.6 878.9L201.9 877.7L202.2 878.8L202.5 879.2L202.8 878.6L203.1 878.3L203.4 877.4L203.7 878.2L204 877.9L204.3 878.7L204.6 878.7L204.9 878.4L205.2 877.6L205.5 878.6L205.8 878.6L206.1 877.6L206.4 879.2L206.7 878.7L207 877.5L207.3 879.3L207.6 877.5L207.9 878" fill="none" stroke="#161616" stroke-width="1.05" stroke-linejoin="round"/><path d="M132.3 817.6H143.8" stroke="#ff0000" stroke-width="1.1"/><path d="M131 817.6l3.4 -1.7v3.4zM145.1 817.6l-3.4 -1.7v3.4z" fill="#ff0000"/><text x="74.3" y="769.6" font-size="12.2" fill="#111" textLength="49.3" lengthAdjust="spacingAndGlyphs">192 THz</text><text x="74.3" y="786.3" font-size="12.2" fill="#111" textLength="55.5" lengthAdjust="spacingAndGlyphs">1.45 GHz</text>
<text x="87.5" y="936.7" font-size="19" text-anchor="middle" fill="#000">185</text>
<text x="160" y="936.7" font-size="19" text-anchor="middle" fill="#000">190</text>
<text x="232.5" y="936.7" font-size="19" text-anchor="middle" fill="#000">195</text>
<text x="305" y="936.7" font-size="19" text-anchor="middle" fill="#000">200</text>
<text x="377.5" y="936.7" font-size="19" text-anchor="middle" fill="#000">205</text>
<text x="449.9" y="936.7" font-size="19" text-anchor="middle" fill="#000">210</text>
<text x="269" y="963.2" font-size="27" text-anchor="middle" fill="#000" textLength="203" lengthAdjust="spacingAndGlyphs">Frequency (THz)</text>
<text transform="translate(36.5,712.8) rotate(-90)" x="0" y="0" font-size="28" text-anchor="middle" fill="#000" textLength="334.5" lengthAdjust="spacingAndGlyphs">Transmission (10dB/div)</text>
<text x="64" y="541" font-size="38.5" fill="#000" textLength="44" lengthAdjust="spacingAndGlyphs">(c)</text>
</g>
<g id="panelD">
<clipPath id="clipD"><rect x="571.8" y="493.1" width="242.3" height="418.8"/></clipPath>
<rect x="571.8" y="493.1" width="242.3" height="418.8" fill="none" stroke="#000" stroke-width="2"/>
<path d="M587.9 911.9v-8.5M587.9 493.1v7M620.1 911.9v-4.6M620.1 493.1v4.4M652.4 911.9v-8.5M652.4 493.1v7M684.6 911.9v-4.6M684.6 493.1v4.4M716.9 911.9v-8.5M716.9 493.1v7M749.1 911.9v-4.6M749.1 493.1v4.4M781.4 911.9v-8.5M781.4 493.1v7M571.8 538.7h8.2M814.1 538.7h-8.2M571.8 584.7h4.4M814.1 584.7h-4.4M571.8 630.8h8.2M814.1 630.8h-8.2M571.8 676.8h4.4M814.1 676.8h-4.4M571.8 722.9h8.2M814.1 722.9h-8.2M571.8 768.9h4.4M814.1 768.9h-4.4M571.8 814.9h8.2M814.1 814.9h-8.2M571.8 861h4.4M814.1 861h-4.4M571.8 907h8.2M814.1 907h-8.2" stroke="#000" stroke-width="1.9" fill="none"/>
<path d="M571.8 817.6L572.1 820L572.3 820.7L572.8 811.7L573.3 820.7L573.6 828.9L573.9 831.3L574.2 830.8L574.5 832.1L574.8 835L575.1 835.7L575.4 837.4L575.7 837.6L576 837.4L576.3 838L576.6 841.3L576.9 839.5L577.2 839.6L577.5 839.6L577.8 840.8L578.1 840.6L578.4 839.8L578.7 839.6L579 839.5L579.3 839.5L579.6 839.6L579.9 838.6L580.2 836.8L580.5 839.1L580.8 837.3L581.1 831.3L581.6 808.5L582.1 831.3L582.3 839.4L582.6 842.3L582.9 839.4L583.2 840.3L583.5 838.5L583.8 839.6L584.1 840.8L584.4 840.4L584.7 841.2L585 841.3L585.3 840.7L585.6 842.4L585.9 841.6L586.2 844.3L586.5 842.5L586.8 843.8L587.1 843.2L587.4 844L587.7 842.4L588 843.6L588.3 842.4L588.6 843.6L588.9 843.1L589.2 842.8L589.5 842.1L589.6 833.7L590.1 805.3L590.6 833.7L590.7 843.1L591 844.1L591.3 844.2L591.6 844.2L591.9 844.3L592.2 844.5L592.5 844L592.8 844L593.1 844.9L593.4 846.2L593.7 847.4L594 847.4L594.3 847.8L594.6 847.7L594.9 847.6L595.2 846.8L595.5 846.8L595.8 847.1L596.1 844.7L596.4 843.8L596.7 845.7L597 843.7L597.3 843.9L597.4 831.8L597.9 800.7L598.4 831.8L598.5 842.8L598.8 840.9L599.1 841.1L599.4 840.2L599.7 839.1L600 839.7L600.3 840.1L600.6 840.8L600.9 840.4L601.2 839.8L601.5 841L601.8 839.1L602.1 840.4L602.4 840.6L602.7 839.2L603 837.5L603.3 837.9L603.6 838.5L603.9 838.4L604.2 838.8L604.5 835.9L604.8 836L605.1 835.5L605.4 833.4L605.7 829.9L605.9 819.7L606.4 792.4L606.9 819.7L607.2 824.3L607.5 823.4L607.8 823.9L608.1 821.5L608.4 820.5L608.7 821.1L609 819.4L609.3 820.5L609.6 818.2L609.9 817.9L610.2 818.4L610.5 818.5L610.8 817.5L611.1 816.8L611.4 814.6L611.7 814.7L612 813.9L612.3 813L612.6 812.8L612.9 810.9L613.2 810.2L613.5 807.9L613.8 805.7L614 794.3L614.5 773L615 794.3L615.3 796L615.6 793.3L615.9 793.9L616.2 792.3L616.5 789.9L616.8 788.7L617.1 787.3L617.4 787.4L617.7 786.6L618 787.2L618.3 784.9L618.6 783.2L618.9 781.1L619.2 783.1L619.5 781.3L619.8 779L620.1 779.2L620.4 776.7L620.7 779.4L621 776.4L621.3 774.9L621.6 773.3L621.9 770.8L622.2 771.3L622.5 765.7L623 756L623.5 765.7L623.7 767.5L624 766.9L624.3 763.9L624.6 762.8L624.9 763.9L625.2 763.2L625.5 761.1L625.8 760.7L626.1 760L626.4 759L626.7 758.8L627 759.6L627.3 758.5L627.6 758.9L627.9 756.6L628.2 755.9L628.5 754.6L628.8 754.6L629.1 752.9L629.4 751.8L629.7 753L630 752.8L630.3 751.6L630.6 751.4L630.9 747.3L631.4 742.7L631.9 747.3L632.1 746.9L632.4 746L632.7 745.8L633 746.6L633.3 746.5L633.6 745.8L633.9 747.1L634.2 746L634.5 746.1L634.8 746.4L635.1 744.7L635.4 743.7L635.7 745.6L636 744.3L636.3 745.6L636.6 744.7L636.9 745L637.2 744.5L637.5 742L637.8 743.7L638.1 742.3L638.4 741.9L638.7 741.8L639 742.5L639.1 740.4L639.6 736.2L640.1 740.4L640.2 741.1L640.5 739.7L640.8 741.3L641.1 741.7L641.4 740.6L641.7 741.3L642 741.2L642.3 741.6L642.6 740.1L642.9 740L643.2 740L643.5 741.7L643.8 741.1L644.1 740.1L644.4 740.2L644.7 740L645 740L645.3 739.6L645.6 739.3L645.9 738.4L646.2 738.5L646.5 739.9L646.8 738.8L647.1 738.3L647.4 738L647.5 735.3L648 726.1L648.5 735.3L648.6 738.7L648.9 738.8L649.2 738.3L649.5 738.5L649.8 738.8L650.1 739.2L650.4 741.3L650.7 739.5L651 741.7L651.3 742.1L651.6 742.7L651.9 743.9L652.2 745.3L652.5 745.2L652.8 745.6L653.1 745.9L653.4 746.9L653.7 748.3L654 747.8L654.3 747.4L654.6 747.1L654.9 746.8L655.2 746.1L655.5 747.4L655.8 746.4L656 736.7L656.5 709.5L657 736.7L657.3 746.4L657.6 744.6L657.9 744.7L658.2 745.4L658.5 747.2L658.8 748.1L659.1 747.1L659.4 749.6L659.7 749.4L660 750.3L660.3 751L660.6 752.1L660.9 751.8L661.2 753.3L661.5 754L661.8 756.2L662.1 758.3L662.4 759.8L662.7 758.4L663 758.4L663.3 760.4L663.6 761L663.9 764.2L664.2 764.1L664.5 764.1L664.8 746.6L665.3 684.6L665.8 746.6L666 768.9L666.3 769.5L666.6 769.9L666.9 769.8L667.2 770.4L667.5 770.1L667.8 770.1L668.1 772.1L668.4 771.5L668.7 771.8L669 770.5L669.3 771.8L669.6 772.6L669.9 770.8L670.2 772.1L670.5 770.2L670.8 769.9L671.1 768.5L671.4 767.7L671.7 767.5L672 765.3L672.3 765.8L672.6 763.2L672.9 762.4L673.2 737L673.7 662.5L674.2 737L674.4 761.9L674.7 759.3L675 760.7L675.3 761.6L675.6 761.1L675.9 760.2L676.2 760.2L676.5 760.6L676.8 760.2L677.1 761.1L677.4 761.4L677.7 761.6L678 762.9L678.3 762L678.6 761.3L678.9 763.4L679.2 761.9L679.5 762.3L679.8 762.4L680.1 762L680.4 761.2L680.7 761.5L681 763L681.3 760.7L681.6 761L681.9 762L682 729.8L682.5 634.9L683 729.8L683.1 760.3L683.4 761.4L683.7 762.3L684 763L684.3 764L684.6 764L684.9 764.1L685.2 765L685.5 765.5L685.8 766.5L686.1 767.5L686.4 767.4L686.7 767.7L687 768.4L687.3 770.4L687.6 771L687.9 770.9L688.2 770.6L688.5 770.1L688.8 769L689.1 768.9L689.4 767.1L689.7 767.2L690 766.4L690.3 767.2L690.4 727.6L690.9 609.6L691.4 727.6L691.5 768.8L691.8 767.6L692.1 768L692.4 770L692.7 769.3L693 771.4L693.3 771.5L693.6 772.7L693.9 772.3L694.2 775L694.5 775L694.8 775.6L695.1 778.7L695.4 778.4L695.7 781.1L696 779L696.3 778.2L696.6 778L696.9 778.4L697.2 776.4L697.5 776L697.8 775.3L698.1 773.5L698.4 773.6L698.7 772.5L699 771.6L699.2 725.8L699.7 586.6L700.2 725.8L700.5 770.5L700.8 772.5L701.1 772.5L701.4 771.9L701.7 773.9L702 773.7L702.3 775.7L702.6 776.7L702.9 777.7L703.2 778.5L703.5 779.3L703.8 779.1L704.1 780.3L704.4 780.5L704.7 780.5L705 780.3L705.3 779.8L705.6 779.7L705.9 775.8L706.2 777.2L706.5 775.9L706.8 777L707.1 775.3L707.4 772.8L707.7 722.7L708.2 571.8L708.7 722.7L708.9 772.3L709.2 772.2L709.5 772.5L709.8 772.6L710.1 772.4L710.4 775L710.7 776.3L711 776.3L711.3 776.5L711.6 778.3L711.9 779.4L712.2 779.7L712.5 780.4L712.8 781.7L713.1 779.5L713.4 779.1L713.7 777L714 776.8L714.3 775.5L714.6 774.2L714.9 773.2L715.2 773.9L715.5 771.2L715.8 770.3L716.1 771.2L716.4 769L716.6 709.6L717.1 533.6L717.6 709.6L717.9 766.8L718.2 767.6L718.5 767.6L718.8 770.1L719.1 770.6L719.4 772.7L719.7 773.8L720 775L720.3 777.5L720.6 778.7L720.9 778.7L721.2 777.9L721.5 777L721.8 776.9L722.1 777.2L722.4 773.7L722.7 772.1L723 770.8L723.3 769.2L723.6 768L723.9 767.4L724.2 767.7L724.5 766L724.8 765.2L725.1 716.8L725.6 572.3L726.1 716.8L726.3 763.9L726.6 765.2L726.9 767.3L727.2 769L727.5 770.9L727.8 772.9L728.1 775.8L728.4 777.9L728.7 781.9L729 781.6L729.3 783.9L729.6 786.1L729.9 785.2L730.2 786.2L730.5 784.6L730.8 784.2L731.1 783.3L731.4 782L731.7 781.7L732 783.6L732.3 781.9L732.6 781.6L732.9 781.8L733.2 782L733.5 783.2L733.7 740.3L734.2 606.8L734.7 740.3L735 787.4L735.3 790.3L735.6 792.5L735.9 796.1L736.2 797.9L736.5 800.5L736.8 803.9L737.1 808.1L737.4 809.7L737.7 812.5L738 814.5L738.3 815.9L738.6 816.5L738.9 816.1L739.2 812.8L739.5 813.8L739.8 811.6L740.1 810.2L740.4 811L740.7 807.9L741 808.4L741.3 806.8L741.6 804.7L741.9 805.4L742.1 761.4L742.6 632.2L743.1 761.4L743.4 804.3L743.7 804.4L744 808.6L744.3 810.1L744.6 813.8L744.9 818L745.2 821.9L745.5 825.9L745.8 829.9L746.1 831.9L746.4 831.3L746.7 830.4L747 827.5L747.3 826.8L747.6 823.7L747.9 822.3L748.2 819.4L748.5 817.5L748.8 816L749.1 812.8L749.4 813.6L749.7 810.1L750 809L750.3 807.8L750.6 809.2L750.9 772L751.4 665.8L751.9 772L752.1 808.5L752.4 809.1L752.7 811.1L753 814.3L753.3 818.3L753.6 822.6L753.9 825.8L754.2 829.9L754.5 835.1L754.8 836.3L755.1 834.8L755.4 835.1L755.7 833.6L756 831.8L756.3 831.1L756.6 828.4L756.9 826.8L757.2 825.1L757.5 823.7L757.8 823.3L758.1 821.9L758.4 819.9L758.7 820.9L759 821.4L759.3 823.6L759.4 794.9L759.9 704.4L760.4 794.9L760.5 827.5L760.8 832.2L761.1 835.6L761.4 839.7L761.7 842.2L762 847.2L762.3 850.6L762.6 854L762.9 859.6L763.2 863.4L763.5 864.8L763.8 866L764.1 865.8L764.4 868.5L764.7 870L765 866.5L765.3 861.3L765.6 862L765.9 862.9L766.2 864.5L766.5 864L766.8 863.6L767.1 864.5L767.4 863.7L767.7 865.8L768 867L768 867.3L768.1 841L768.6 743.6L769.1 841L769.2 878.1L769.4 875.3L769.5 881.2L769.7 884.7L769.9 881.3L770 889.5L770.2 885.4L770.4 887.8L770.6 885.5L770.7 882.3L770.9 892.3L771.1 881.9L771.2 888L771.4 883L771.6 885.2L771.7 881.5L771.9 882.3L772.1 886.1L772.3 888.9L772.4 879.9L772.6 882.2L772.8 884.7L772.9 879.4L773.1 883.2L773.3 878.1L773.4 882L773.6 881L773.8 882.9L774 879.8L774.1 874.4L774.3 879.7L774.5 873.7L774.6 879L774.8 881L775 878.1L775.1 874.6L775.3 880.3L775.5 877.4L775.7 873.4L775.8 876.4L776 882.3L776.2 877.2L776.3 878.9L776.5 877.8L776.7 873.9L776.8 877.9L776.9 852.7L777.4 769.4L777.9 852.7L778 885L778.2 886.3L778.4 881.2L778.5 881.1L778.7 884.3L778.9 888.9L779.1 878.8L779.2 883.7L779.4 882.5L779.6 886.7L779.7 889.7L779.9 884.3L780.1 881.4L780.2 885.4L780.4 884.3L780.6 880.4L780.8 887.9L780.9 883.6L781.1 887.3L781.3 881.1L781.4 888.6L781.6 880.7L781.8 888.5L781.9 879.6L782.1 889.5L782.3 884L782.5 880.4L782.6 884.5L782.8 886.2L783 882.1L783.1 883.7L783.3 886L783.5 884.7L783.6 875.7L783.8 883.9L784 886.5L784.2 886.1L784.3 888.3L784.5 883.1L784.7 893.1L784.8 887.7L785 886.2L785.2 888.6L785.3 888.2L785.5 885.6L785.7 865.3L786.2 805.3L786.7 865.3L786.9 886.1L787 887.3L787.2 885.7L787.4 890.2L787.6 883.5L787.7 884.1L787.9 886.3L788.1 887.6L788.2 887.8L788.4 889.9L788.6 883.9L788.7 889L788.9 886.8L789.1 882.1L789.3 884.9L789.4 891.8L789.6 887.8L789.8 883.9L789.9 877.9L790.1 883.1L790.3 883.2L790.4 885.6L790.6 892.6L790.8 887.7L791 886.4L791.1 882.5L791.3 881.7L791.5 884.8L791.6 884L791.8 894.7L792 884.2L792.1 883.5L792.3 888.9L792.5 885.7L792.7 881.6L792.8 889.5L793 884.5L793.2 881.3L793.3 886.5L793.5 887L793.7 884.4L793.8 887.6L794 888L794.1 873.2L794.6 836.1L795.1 873.2L795.2 889.8L795.4 891.3L795.5 885.6L795.7 888.8L795.9 880.8L796.1 887.7L796.2 886.8L796.4 885.3L796.6 884.2L796.7 882.1L796.9 886L797.1 889.5L797.2 884.5L797.4 887.2L797.6 883.5L797.8 886.4L797.9 882.5L798.1 886.8L798.3 884.9L798.4 886.6L798.6 883.7L798.8 882L798.9 884.6L799.1 888.9L799.3 890.5L799.5 884.6L799.6 888.1L799.8 888L800 886.9L800.1 880.9L800.3 886.7L800.5 882.7L800.6 889.3L800.8 888.1L801 887.6L801.2 877.8L801.3 887.6L801.5 887.9L801.7 881.8L801.8 888.7L802 886L802.2 885.2L802.3 883.5L802.5 882.6L802.6 880.4L803.1 864.2L803.6 880.4L803.7 884.1L803.9 883L804 888.5L804.2 885L804.4 888.5L804.6 882.2L804.7 888.7L804.9 885.7L805.1 887.9L805.2 885.5L805.4 883.1L805.6 889.6L805.7 884.5L805.9 885.4L806.1 883.1L806.3 886.5L806.4 884.7L806.6 886.7L806.8 886.9L806.9 883.7L807.1 881.5L807.3 887.2L807.4 888.7L807.6 888.1L807.8 882.4L808 887.8L808.1 887.1L808.3 886.8L808.5 887.3L808.6 884.9L808.8 886.6L809 888.8L809.1 884.4L809.3 881.5L809.5 885.6L809.7 886.6L809.8 880.2L810 883.9L810.2 887.8L810.3 885.5L810.5 886.3L810.7 882.1L810.8 888.8L811.1 883.6L811.6 876.2L812.1 883.6L812.2 889.8L812.4 888.4L812.5 887.9L812.7 880.6L812.9 885.7L813.1 888L813.2 882.3L813.4 889L813.6 890.5L813.7 889.3L813.9 883.9L814.1 883.9" fill="none" stroke="#00009b" stroke-width="1.35" stroke-linejoin="round" clip-path="url(#clipD)"/>
<text x="588.4" y="937.5" font-size="20" text-anchor="middle" fill="#000">190</text>
<text x="652.9" y="937.5" font-size="20" text-anchor="middle" fill="#000">192</text>
<text x="717.4" y="937.5" font-size="20" text-anchor="middle" fill="#000">194</text>
<text x="781.9" y="937.5" font-size="20" text-anchor="middle" fill="#000">196</text>
<text x="562.2" y="545.5" font-size="19.3" text-anchor="end" fill="#000">0</text>
<text x="562.2" y="637.6" font-size="19.3" text-anchor="end" fill="#000">-20</text>
<text x="562.2" y="729.7" font-size="19.3" text-anchor="end" fill="#000">-40</text>
<text x="562.2" y="821.7" font-size="19.3" text-anchor="end" fill="#000">-60</text>
<text x="562.2" y="913.8" font-size="19.3" text-anchor="end" fill="#000">-80</text>
<text x="692.9" y="963.5" font-size="27" text-anchor="middle" fill="#000" textLength="206" lengthAdjust="spacingAndGlyphs">Frequency (THz)</text>
<text transform="translate(524.3,701.2) rotate(-90)" x="0" y="0" font-size="27.5" text-anchor="middle" fill="#000" textLength="269.5" lengthAdjust="spacingAndGlyphs">Spectral Power (dBm)</text>
<text x="584.5" y="534.6" font-size="38.5" fill="#000" textLength="47.5" lengthAdjust="spacingAndGlyphs">(d)</text>
</g>
</svg>
</body></html>
